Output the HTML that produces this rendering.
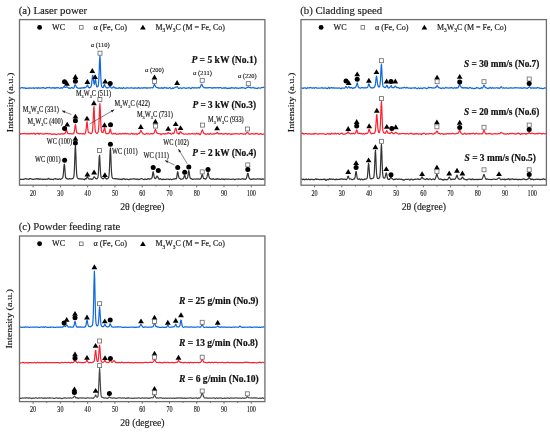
<!DOCTYPE html>
<html><head><meta charset="utf-8"><style>
html,body{margin:0;padding:0;background:#fff;}
body{width:550px;height:432px;overflow:hidden;}
svg{display:block;}
text{font-family:"Liberation Serif", serif;}
text.n{stroke:#1a1a1a;stroke-width:0.15px;}
text.b{stroke:#111;stroke-width:0.2px;}
</style></head><body>
<svg width="550" height="432" viewBox="0 0 550 432">
<defs><filter id="gs" x="0" y="0" width="550" height="432" filterUnits="userSpaceOnUse"><feColorMatrix type="saturate" values="0"/></filter></defs>
<rect width="550" height="432" fill="#fff"/>
<circle cx="39.6" cy="27.400000000000002" r="2.45" fill="#000"/>
<rect x="79.50" y="25.60" width="3.6" height="3.6" fill="#fff" stroke="#6a6a6a" stroke-width="0.8"/>
<polygon points="140.05,29.60 145.75,29.60 142.90,24.80" fill="#000"/>
<polyline points="19.80,88.60 20.15,88.42 20.50,88.11 20.85,87.73 21.20,87.72 21.55,87.69 21.90,87.63 22.25,87.66 22.60,87.83 22.95,88.13 23.30,87.96 23.65,87.94 24.00,87.85 24.35,87.76 24.70,87.84 25.05,87.90 25.40,88.48 25.75,88.43 26.10,88.36 26.45,88.19 26.80,88.19 27.15,88.35 27.50,88.11 27.85,88.11 28.20,88.13 28.55,88.29 28.90,88.27 29.25,87.96 29.60,87.92 29.95,87.91 30.30,88.18 30.65,88.15 31.00,88.30 31.35,88.18 31.70,88.18 32.05,88.12 32.40,87.96 32.75,87.87 33.10,87.70 33.45,88.16 33.80,88.20 34.15,88.38 34.50,88.17 34.85,88.14 35.20,87.81 35.55,87.87 35.90,87.85 36.25,88.19 36.60,87.85 36.95,87.84 37.30,87.92 37.65,88.33 38.00,88.20 38.35,87.82 38.70,87.59 39.05,87.90 39.40,88.12 39.75,88.17 40.10,87.92 40.45,87.98 40.80,88.10 41.15,88.19 41.50,87.88 41.85,87.60 42.20,87.78 42.55,87.74 42.90,87.84 43.25,87.57 43.60,87.81 43.95,87.79 44.30,87.94 44.65,88.19 45.00,88.28 45.35,88.48 45.70,88.24 46.05,88.10 46.40,87.96 46.75,87.55 47.10,87.62 47.45,87.59 47.80,87.83 48.15,87.90 48.50,87.79 48.85,87.61 49.20,87.51 49.55,87.44 49.90,87.74 50.25,87.74 50.60,88.08 50.95,88.17 51.30,88.19 51.65,88.06 52.00,87.77 52.35,87.96 52.70,87.74 53.05,88.08 53.40,87.73 53.75,87.74 54.10,87.61 54.45,88.07 54.80,88.32 55.15,88.29 55.50,87.96 55.85,87.68 56.20,87.77 56.55,87.72 56.90,88.00 57.25,87.80 57.60,87.84 57.95,87.60 58.30,87.70 58.65,87.85 59.00,88.00 59.35,88.19 59.70,88.26 60.05,88.41 60.40,88.11 60.75,88.01 61.10,87.57 61.45,87.76 61.80,87.96 62.15,88.18 62.50,88.10 62.85,87.76 63.20,87.60 63.55,87.28 63.90,86.66 64.25,86.50 64.60,86.80 64.95,87.30 65.30,87.49 65.65,87.43 66.00,87.28 66.35,86.87 66.70,86.78 67.05,86.95 67.40,87.21 67.75,87.38 68.10,87.74 68.45,88.12 68.80,88.24 69.15,88.01 69.50,87.92 69.85,88.15 70.20,88.44 70.55,88.29 70.90,88.03 71.25,87.61 71.60,87.53 71.95,87.56 72.30,87.77 72.65,88.07 73.00,88.21 73.35,88.29 73.70,88.22 74.05,87.63 74.40,86.64 74.75,85.43 75.10,84.89 75.45,85.02 75.80,85.72 76.15,86.48 76.50,87.39 76.85,87.77 77.20,87.99 77.55,87.73 77.90,88.11 78.25,88.12 78.60,88.27 78.95,88.38 79.30,88.21 79.65,88.06 80.00,88.04 80.35,87.97 80.70,88.40 81.05,88.12 81.40,88.09 81.75,87.76 82.10,87.78 82.45,87.97 82.80,87.93 83.15,88.07 83.50,87.68 83.85,87.62 84.20,87.41 84.55,88.01 84.90,87.78 85.25,87.73 85.60,87.23 85.95,87.26 86.30,87.02 86.65,86.51 87.00,85.85 87.35,85.04 87.70,85.37 88.05,86.25 88.40,87.28 88.75,87.63 89.10,87.79 89.45,87.54 89.80,87.82 90.15,87.59 90.50,87.52 90.85,86.85 91.20,85.96 91.55,84.33 91.90,81.31 92.25,77.75 92.60,75.37 92.95,75.87 93.30,78.51 93.65,81.67 94.00,83.77 94.35,84.50 94.70,82.81 95.05,80.16 95.40,78.83 95.75,80.35 96.10,83.58 96.45,85.68 96.80,86.78 97.15,86.99 97.50,86.86 97.85,86.58 98.20,85.53 98.55,83.52 98.90,78.26 99.25,69.42 99.60,59.28 99.95,55.66 100.30,62.14 100.65,72.76 101.00,80.50 101.35,84.91 101.70,86.40 102.05,87.13 102.40,87.28 102.75,87.52 103.10,87.56 103.45,87.26 103.80,86.00 104.15,84.84 104.50,84.50 104.85,85.33 105.20,86.28 105.55,86.81 105.90,87.18 106.25,87.61 106.60,87.84 106.95,88.07 107.30,87.86 107.65,87.95 108.00,87.71 108.35,87.73 108.70,87.66 109.05,87.32 109.40,86.62 109.75,85.58 110.10,85.33 110.45,86.17 110.80,87.21 111.15,87.94 111.50,88.01 111.85,88.05 112.20,87.91 112.55,87.80 112.90,87.38 113.25,86.94 113.60,86.77 113.95,87.09 114.30,87.73 114.65,87.64 115.00,87.92 115.35,87.95 115.70,88.21 116.05,87.95 116.40,88.03 116.75,88.28 117.10,88.42 117.45,88.27 117.80,88.11 118.15,88.11 118.50,88.08 118.85,87.94 119.20,87.72 119.55,87.72 119.90,87.90 120.25,88.34 120.60,88.15 120.95,88.18 121.30,87.83 121.65,88.08 122.00,88.21 122.35,88.41 122.70,88.34 123.05,88.06 123.40,87.67 123.75,87.68 124.10,87.95 124.45,88.12 124.80,88.23 125.15,88.15 125.50,88.25 125.85,88.31 126.20,88.19 126.55,88.00 126.90,87.67 127.25,87.82 127.60,87.89 127.95,88.02 128.30,88.01 128.65,87.95 129.00,88.26 129.35,88.23 129.70,88.27 130.05,87.91 130.40,87.98 130.75,87.88 131.10,87.88 131.45,87.71 131.80,87.92 132.15,88.02 132.50,88.08 132.85,87.99 133.20,87.97 133.55,88.11 133.90,88.26 134.25,88.21 134.60,88.28 134.95,87.88 135.30,87.96 135.65,87.80 136.00,88.25 136.35,88.25 136.70,88.09 137.05,88.04 137.40,87.99 137.75,88.12 138.10,87.60 138.45,87.69 138.80,87.50 139.15,88.07 139.50,88.12 139.85,88.35 140.20,88.15 140.55,88.10 140.90,87.94 141.25,88.03 141.60,87.95 141.95,87.87 142.30,88.13 142.65,88.26 143.00,88.08 143.35,87.92 143.70,87.60 144.05,87.88 144.40,87.66 144.75,87.78 145.10,87.85 145.45,87.89 145.80,87.75 146.15,87.72 146.50,87.82 146.85,88.30 147.20,88.24 147.55,88.00 147.90,87.68 148.25,87.84 148.60,87.88 148.95,87.83 149.30,87.81 149.65,87.94 150.00,88.07 150.35,87.89 150.70,87.76 151.05,87.67 151.40,87.72 151.75,87.78 152.10,87.85 152.45,87.88 152.80,87.84 153.15,87.48 153.50,86.60 153.85,85.44 154.20,84.62 154.55,84.46 154.90,85.16 155.25,85.79 155.60,86.61 155.95,87.07 156.30,87.42 156.65,87.50 157.00,87.43 157.35,87.60 157.70,87.89 158.05,88.02 158.40,88.03 158.75,87.70 159.10,87.91 159.45,88.18 159.80,88.16 160.15,88.03 160.50,87.97 160.85,88.21 161.20,88.26 161.55,87.75 161.90,87.67 162.25,87.79 162.60,88.31 162.95,88.43 163.30,88.21 163.65,87.89 164.00,87.52 164.35,87.45 164.70,87.72 165.05,87.98 165.40,87.94 165.75,87.97 166.10,87.74 166.45,88.13 166.80,87.88 167.15,88.18 167.50,88.09 167.85,88.18 168.20,88.32 168.55,88.22 168.90,88.13 169.25,87.84 169.60,87.62 169.95,87.57 170.30,87.81 170.65,88.15 171.00,88.47 171.35,88.73 171.70,88.71 172.05,88.58 172.40,87.97 172.75,87.82 173.10,88.07 173.45,88.35 173.80,88.36 174.15,88.07 174.50,87.70 174.85,87.58 175.20,87.31 175.55,87.19 175.90,87.23 176.25,87.18 176.60,86.96 176.95,86.57 177.30,86.47 177.65,87.06 178.00,87.57 178.35,88.20 178.70,88.48 179.05,88.48 179.40,88.24 179.75,87.89 180.10,87.74 180.45,87.85 180.80,88.07 181.15,88.16 181.50,88.32 181.85,88.33 182.20,88.34 182.55,88.06 182.90,87.97 183.25,87.83 183.60,87.71 183.95,87.75 184.30,87.81 184.65,87.91 185.00,88.05 185.35,88.10 185.70,88.34 186.05,88.16 186.40,88.41 186.75,88.29 187.10,88.02 187.45,87.98 187.80,87.88 188.15,87.85 188.50,87.68 188.85,87.74 189.20,87.84 189.55,87.73 189.90,87.79 190.25,88.19 190.60,88.45 190.95,88.56 191.30,88.51 191.65,87.97 192.00,87.67 192.35,87.53 192.70,87.50 193.05,87.73 193.40,87.83 193.75,88.12 194.10,87.94 194.45,87.67 194.80,87.78 195.15,87.83 195.50,87.96 195.85,87.81 196.20,87.87 196.55,87.82 196.90,88.11 197.25,88.09 197.60,87.91 197.95,87.55 198.30,87.50 198.65,87.63 199.00,87.89 199.35,87.96 199.70,87.94 200.05,87.39 200.40,86.62 200.75,85.90 201.10,84.93 201.45,84.34 201.80,84.04 202.15,84.96 202.50,85.74 202.85,86.68 203.20,86.76 203.55,87.18 203.90,87.42 204.25,87.79 204.60,87.72 204.95,87.65 205.30,87.81 205.65,87.82 206.00,87.94 206.35,87.69 206.70,87.99 207.05,87.68 207.40,87.80 207.75,87.84 208.10,87.90 208.45,87.78 208.80,87.60 209.15,87.61 209.50,87.69 209.85,87.57 210.20,87.60 210.55,87.62 210.90,87.58 211.25,87.93 211.60,87.98 211.95,88.28 212.30,87.82 212.65,88.01 213.00,87.67 213.35,87.82 213.70,87.83 214.05,87.94 214.40,87.71 214.75,87.54 215.10,87.59 215.45,87.97 215.80,87.91 216.15,87.89 216.50,87.81 216.85,87.71 217.20,87.74 217.55,87.61 217.90,87.92 218.25,87.92 218.60,88.02 218.95,87.59 219.30,87.59 219.65,87.56 220.00,87.78 220.35,87.72 220.70,87.59 221.05,87.76 221.40,87.93 221.75,88.21 222.10,88.11 222.45,88.26 222.80,88.30 223.15,88.23 223.50,87.96 223.85,87.59 224.20,87.71 224.55,87.84 224.90,88.28 225.25,88.23 225.60,87.86 225.95,87.64 226.30,87.91 226.65,88.20 227.00,88.41 227.35,88.33 227.70,88.55 228.05,88.45 228.40,88.22 228.75,88.05 229.10,88.35 229.45,88.37 229.80,88.02 230.15,87.96 230.50,88.10 230.85,88.28 231.20,87.87 231.55,87.58 231.90,87.78 232.25,87.89 232.60,88.03 232.95,87.86 233.30,87.77 233.65,88.03 234.00,88.07 234.35,88.34 234.70,88.05 235.05,87.99 235.40,87.71 235.75,87.75 236.10,87.83 236.45,88.06 236.80,88.32 237.15,88.17 237.50,88.21 237.85,88.04 238.20,88.44 238.55,88.22 238.90,88.08 239.25,87.96 239.60,88.08 239.95,88.14 240.30,88.02 240.65,87.95 241.00,88.06 241.35,87.80 241.70,87.60 242.05,87.56 242.40,87.86 242.75,87.96 243.10,87.69 243.45,87.85 243.80,87.88 244.15,87.98 244.50,88.02 244.85,88.23 245.20,88.54 245.55,88.42 245.90,88.32 246.25,88.00 246.60,87.81 246.95,87.60 247.30,87.53 247.65,87.21 248.00,86.81 248.35,86.82 248.70,87.09 249.05,87.52 249.40,87.65 249.75,87.50 250.10,87.37 250.45,87.56 250.80,87.84 251.15,88.11 251.50,87.79 251.85,87.73 252.20,87.78 252.55,87.77 252.90,87.67 253.25,87.29 253.60,87.76 253.95,87.93 254.30,88.09 254.65,87.94 255.00,87.92 255.35,88.14 255.70,88.29 256.05,88.44 256.40,88.36 256.75,88.30 257.10,88.28 257.45,88.41 257.80,88.02 258.15,87.95 258.50,87.79 258.85,88.09 259.20,88.00 259.55,87.97 259.90,88.02 260.25,88.09 260.60,88.12 260.95,87.89 261.30,87.67 261.65,87.54 262.00,87.43 262.35,87.54 262.70,87.53 263.05,87.52 263.40,87.31 263.75,87.37 264.10,87.55 264.45,87.75" fill="none" stroke="#1068dc" stroke-width="1.2" stroke-linejoin="round"/>
<polyline points="19.80,134.50 20.15,134.21 20.50,133.88 20.85,134.10 21.20,133.83 21.55,133.75 21.90,133.51 22.25,133.56 22.60,133.50 22.95,133.53 23.30,133.65 23.65,133.64 24.00,133.78 24.35,133.74 24.70,133.40 25.05,133.51 25.40,133.54 25.75,133.90 26.10,133.77 26.45,133.86 26.80,133.98 27.15,133.81 27.50,133.80 27.85,133.57 28.20,133.91 28.55,133.69 28.90,133.89 29.25,133.68 29.60,133.90 29.95,133.89 30.30,133.96 30.65,133.39 31.00,133.39 31.35,133.27 31.70,133.73 32.05,133.98 32.40,133.85 32.75,133.91 33.10,133.37 33.45,133.56 33.80,133.33 34.15,133.40 34.50,133.71 34.85,134.06 35.20,134.30 35.55,133.97 35.90,133.64 36.25,133.48 36.60,133.52 36.95,133.42 37.30,133.62 37.65,133.29 38.00,133.63 38.35,133.42 38.70,133.95 39.05,134.09 39.40,134.18 39.75,133.62 40.10,133.35 40.45,133.42 40.80,133.55 41.15,133.72 41.50,133.88 41.85,134.02 42.20,133.91 42.55,133.88 42.90,133.84 43.25,134.04 43.60,133.87 43.95,134.16 44.30,133.99 44.65,133.88 45.00,133.64 45.35,133.59 45.70,133.61 46.05,133.57 46.40,133.78 46.75,133.60 47.10,133.61 47.45,133.47 47.80,133.78 48.15,133.91 48.50,133.73 48.85,133.86 49.20,133.70 49.55,133.92 49.90,133.78 50.25,133.77 50.60,133.67 50.95,133.77 51.30,134.14 51.65,134.38 52.00,134.45 52.35,134.21 52.70,133.98 53.05,133.94 53.40,134.17 53.75,134.05 54.10,134.08 54.45,133.92 54.80,134.16 55.15,134.16 55.50,134.21 55.85,134.51 56.20,134.59 56.55,134.63 56.90,134.34 57.25,134.27 57.60,134.05 57.95,134.04 58.30,133.84 58.65,133.92 59.00,134.10 59.35,134.14 59.70,134.08 60.05,133.95 60.40,133.98 60.75,134.08 61.10,134.02 61.45,133.84 61.80,133.53 62.15,133.60 62.50,133.87 62.85,134.18 63.20,134.10 63.55,134.02 63.90,133.59 64.25,133.73 64.60,133.49 64.95,133.68 65.30,132.78 65.65,131.84 66.00,130.42 66.35,129.72 66.70,130.20 67.05,131.56 67.40,132.83 67.75,133.63 68.10,133.71 68.45,133.58 68.80,133.49 69.15,133.48 69.50,133.61 69.85,133.80 70.20,133.86 70.55,133.74 70.90,133.53 71.25,133.74 71.60,133.87 71.95,133.98 72.30,133.80 72.65,133.83 73.00,133.76 73.35,133.80 73.70,133.60 74.05,132.51 74.40,130.81 74.75,128.50 75.10,125.76 75.45,124.66 75.80,126.29 76.15,129.53 76.50,132.04 76.85,132.89 77.20,133.19 77.55,133.14 77.90,133.29 78.25,133.37 78.60,133.51 78.95,133.69 79.30,133.86 79.65,133.73 80.00,133.73 80.35,133.72 80.70,133.67 81.05,133.71 81.40,133.78 81.75,133.89 82.10,133.91 82.45,133.68 82.80,133.63 83.15,133.43 83.50,133.77 83.85,133.83 84.20,134.18 84.55,134.15 84.90,133.90 85.25,133.15 85.60,132.28 85.95,130.58 86.30,127.58 86.65,123.51 87.00,121.67 87.35,123.67 87.70,127.71 88.05,130.79 88.40,132.32 88.75,132.60 89.10,132.75 89.45,132.87 89.80,133.15 90.15,133.33 90.50,133.38 90.85,133.63 91.20,133.41 91.55,133.37 91.90,132.90 92.25,132.21 92.60,129.80 92.95,125.06 93.30,116.96 93.65,108.69 94.00,106.58 94.35,113.08 94.70,122.14 95.05,128.40 95.40,131.49 95.75,132.22 96.10,132.77 96.45,133.09 96.80,133.50 97.15,133.29 97.50,133.14 97.85,132.63 98.20,131.95 98.55,129.74 98.90,124.91 99.25,116.43 99.60,106.94 99.95,103.70 100.30,109.94 100.65,119.43 101.00,126.35 101.35,130.07 101.70,131.82 102.05,132.52 102.40,132.52 102.75,132.55 103.10,132.28 103.45,131.62 103.80,130.27 104.15,128.62 104.50,127.67 104.85,128.37 105.20,130.25 105.55,132.21 105.90,133.17 106.25,133.82 106.60,133.58 106.95,133.68 107.30,133.55 107.65,133.57 108.00,133.60 108.35,133.25 108.70,133.34 109.05,133.12 109.40,132.37 109.75,130.94 110.10,129.43 110.45,129.10 110.80,130.68 111.15,132.24 111.50,133.64 111.85,133.74 112.20,133.85 112.55,134.15 112.90,133.85 113.25,133.80 113.60,133.40 113.95,133.66 114.30,133.82 114.65,133.78 115.00,133.62 115.35,133.35 115.70,133.54 116.05,133.88 116.40,134.18 116.75,134.35 117.10,134.13 117.45,134.16 117.80,134.03 118.15,134.08 118.50,133.82 118.85,133.85 119.20,133.78 119.55,133.85 119.90,133.57 120.25,133.94 120.60,133.97 120.95,134.05 121.30,133.75 121.65,133.72 122.00,133.81 122.35,133.59 122.70,133.45 123.05,133.52 123.40,133.94 123.75,133.96 124.10,133.90 124.45,133.65 124.80,133.46 125.15,133.40 125.50,133.32 125.85,133.80 126.20,133.81 126.55,133.97 126.90,133.62 127.25,133.67 127.60,133.39 127.95,133.64 128.30,133.82 128.65,133.94 129.00,134.03 129.35,134.03 129.70,134.19 130.05,134.23 130.40,134.03 130.75,133.98 131.10,133.51 131.45,133.34 131.80,133.19 132.15,133.85 132.50,134.05 132.85,134.24 133.20,133.68 133.55,133.90 133.90,133.75 134.25,134.18 134.60,134.08 134.95,134.26 135.30,133.94 135.65,133.76 136.00,133.55 136.35,133.74 136.70,134.00 137.05,134.32 137.40,134.37 137.75,134.00 138.10,133.89 138.45,133.54 138.80,133.50 139.15,133.38 139.50,133.52 139.85,132.94 140.20,131.96 140.55,130.52 140.90,130.37 141.25,130.80 141.60,131.76 141.95,132.28 142.30,132.94 142.65,133.35 143.00,133.79 143.35,133.78 143.70,133.87 144.05,134.00 144.40,134.17 144.75,134.29 145.10,134.30 145.45,134.22 145.80,133.96 146.15,133.62 146.50,133.35 146.85,133.56 147.20,133.62 147.55,133.93 147.90,134.00 148.25,133.94 148.60,133.89 148.95,133.96 149.30,134.09 149.65,134.20 150.00,133.98 150.35,133.82 150.70,133.64 151.05,133.38 151.40,133.62 151.75,133.57 152.10,134.04 152.45,133.73 152.80,133.80 153.15,133.59 153.50,133.62 153.85,133.38 154.20,132.65 154.55,131.63 154.90,130.28 155.25,129.52 155.60,129.63 155.95,130.75 156.30,131.85 156.65,132.72 157.00,133.09 157.35,133.11 157.70,133.26 158.05,133.49 158.40,133.60 158.75,133.63 159.10,133.69 159.45,133.79 159.80,133.87 160.15,133.71 160.50,134.19 160.85,134.37 161.20,134.62 161.55,134.15 161.90,134.03 162.25,133.83 162.60,133.99 162.95,133.80 163.30,133.85 163.65,133.68 164.00,133.81 164.35,134.05 164.70,133.96 165.05,133.71 165.40,133.51 165.75,133.83 166.10,133.96 166.45,133.94 166.80,133.80 167.15,133.73 167.50,133.45 167.85,132.81 168.20,132.58 168.55,132.64 168.90,133.11 169.25,133.48 169.60,133.46 169.95,133.42 170.30,133.54 170.65,133.58 171.00,134.06 171.35,134.05 171.70,134.14 172.05,133.74 172.40,133.22 172.75,133.27 173.10,133.12 173.45,133.64 173.80,133.27 174.15,133.20 174.50,131.81 174.85,130.69 175.20,129.13 175.55,128.12 175.90,128.17 176.25,129.38 176.60,131.22 176.95,132.72 177.30,133.41 177.65,133.31 178.00,133.33 178.35,133.54 178.70,134.19 179.05,134.07 179.40,133.64 179.75,132.61 180.10,131.91 180.45,131.65 180.80,131.89 181.15,132.58 181.50,132.84 181.85,133.29 182.20,133.42 182.55,133.72 182.90,133.73 183.25,133.72 183.60,133.87 183.95,134.08 184.30,134.24 184.65,134.10 185.00,134.00 185.35,133.96 185.70,133.98 186.05,134.01 186.40,134.11 186.75,134.03 187.10,134.17 187.45,134.02 187.80,134.13 188.15,133.89 188.50,133.80 188.85,133.51 189.20,133.80 189.55,133.96 189.90,134.17 190.25,134.08 190.60,133.88 190.95,133.86 191.30,133.69 191.65,133.53 192.00,133.47 192.35,133.42 192.70,133.92 193.05,133.85 193.40,133.89 193.75,133.82 194.10,133.93 194.45,133.82 194.80,133.70 195.15,133.59 195.50,134.05 195.85,133.85 196.20,133.85 196.55,133.17 196.90,133.22 197.25,133.62 197.60,134.02 197.95,133.97 198.30,133.72 198.65,133.68 199.00,133.81 199.35,134.13 199.70,134.46 200.05,134.67 200.40,134.44 200.75,133.77 201.10,132.75 201.45,131.81 201.80,130.95 202.15,130.32 202.50,129.98 202.85,130.73 203.20,131.88 203.55,132.88 203.90,133.45 204.25,133.65 204.60,133.69 204.95,133.89 205.30,133.91 205.65,134.30 206.00,134.19 206.35,134.25 206.70,134.13 207.05,133.96 207.40,133.92 207.75,133.70 208.10,133.78 208.45,133.92 208.80,134.29 209.15,134.38 209.50,134.11 209.85,133.66 210.20,133.31 210.55,133.58 210.90,133.85 211.25,134.18 211.60,134.12 211.95,134.06 212.30,134.08 212.65,134.12 213.00,134.07 213.35,133.85 213.70,133.90 214.05,134.06 214.40,133.96 214.75,133.77 215.10,133.37 215.45,133.66 215.80,133.54 216.15,133.67 216.50,133.32 216.85,132.84 217.20,132.44 217.55,132.53 217.90,133.17 218.25,133.44 218.60,133.77 218.95,133.53 219.30,133.86 219.65,133.88 220.00,133.92 220.35,133.65 220.70,133.60 221.05,133.82 221.40,133.51 221.75,133.52 222.10,133.71 222.45,134.08 222.80,133.84 223.15,133.80 223.50,133.90 223.85,134.14 224.20,134.05 224.55,133.83 224.90,133.69 225.25,133.43 225.60,133.44 225.95,133.49 226.30,133.51 226.65,133.93 227.00,134.05 227.35,134.34 227.70,133.84 228.05,133.73 228.40,133.58 228.75,133.86 229.10,133.96 229.45,133.86 229.80,133.70 230.15,133.78 230.50,134.24 230.85,134.70 231.20,134.51 231.55,134.05 231.90,133.76 232.25,133.87 232.60,134.27 232.95,134.20 233.30,134.01 233.65,133.90 234.00,133.83 234.35,133.81 234.70,133.73 235.05,133.81 235.40,133.78 235.75,133.66 236.10,133.63 236.45,133.75 236.80,133.68 237.15,133.83 237.50,133.81 237.85,133.83 238.20,133.91 238.55,133.82 238.90,134.03 239.25,133.96 239.60,134.05 239.95,133.97 240.30,133.65 240.65,133.73 241.00,133.54 241.35,133.64 241.70,133.64 242.05,133.68 242.40,133.83 242.75,133.86 243.10,134.13 243.45,134.17 243.80,134.26 244.15,133.98 244.50,133.86 244.85,133.79 245.20,134.08 245.55,134.18 245.90,133.95 246.25,133.48 246.60,132.97 246.95,132.77 247.30,132.36 247.65,132.43 248.00,132.75 248.35,133.44 248.70,133.68 249.05,134.04 249.40,134.05 249.75,134.22 250.10,134.06 250.45,133.99 250.80,134.06 251.15,133.92 251.50,133.83 251.85,133.58 252.20,133.66 252.55,133.82 252.90,133.94 253.25,133.81 253.60,133.76 253.95,133.90 254.30,134.14 254.65,134.14 255.00,134.06 255.35,133.61 255.70,133.48 256.05,133.33 256.40,133.47 256.75,133.75 257.10,133.55 257.45,133.76 257.80,133.76 258.15,134.41 258.50,134.26 258.85,134.22 259.20,134.11 259.55,134.33 259.90,134.12 260.25,133.84 260.60,133.53 260.95,133.68 261.30,133.84 261.65,134.22 262.00,134.29 262.35,134.32 262.70,134.28 263.05,134.07 263.40,134.03 263.75,134.02 264.10,134.12 264.45,133.99" fill="none" stroke="#ff2030" stroke-width="1.2" stroke-linejoin="round"/>
<polyline points="19.80,179.41 20.15,179.26 20.50,179.39 20.85,179.17 21.20,179.27 21.55,179.40 21.90,179.46 22.25,179.50 22.60,179.32 22.95,179.47 23.30,179.47 23.65,179.45 24.00,179.13 24.35,179.08 24.70,178.93 25.05,178.87 25.40,178.70 25.75,178.52 26.10,178.69 26.45,178.89 26.80,179.08 27.15,179.13 27.50,178.96 27.85,178.99 28.20,179.02 28.55,179.33 28.90,179.22 29.25,179.12 29.60,178.70 29.95,178.76 30.30,178.49 30.65,178.58 31.00,178.82 31.35,178.82 31.70,179.15 32.05,179.03 32.40,179.31 32.75,179.26 33.10,179.29 33.45,179.50 33.80,179.39 34.15,179.23 34.50,178.98 34.85,178.86 35.20,178.95 35.55,178.92 35.90,179.23 36.25,178.95 36.60,178.91 36.95,178.60 37.30,178.57 37.65,179.02 38.00,178.80 38.35,179.07 38.70,178.71 39.05,179.32 39.40,179.06 39.75,179.30 40.10,178.94 40.45,179.22 40.80,178.95 41.15,179.16 41.50,179.01 41.85,179.10 42.20,179.06 42.55,179.50 42.90,179.16 43.25,179.33 43.60,179.20 43.95,179.48 44.30,179.30 44.65,179.09 45.00,179.41 45.35,179.39 45.70,179.43 46.05,179.15 46.40,179.09 46.75,179.09 47.10,178.99 47.45,179.33 47.80,179.07 48.15,178.66 48.50,178.33 48.85,178.60 49.20,179.19 49.55,179.18 49.90,179.18 50.25,179.17 50.60,179.35 50.95,179.30 51.30,179.20 51.65,179.34 52.00,179.49 52.35,179.39 52.70,179.45 53.05,179.48 53.40,179.54 53.75,179.02 54.10,178.94 54.45,178.90 54.80,178.92 55.15,178.68 55.50,178.72 55.85,179.04 56.20,179.17 56.55,179.03 56.90,178.96 57.25,179.03 57.60,179.36 57.95,179.44 58.30,179.39 58.65,179.24 59.00,179.04 59.35,178.88 59.70,178.99 60.05,179.18 60.40,179.35 60.75,179.19 61.10,178.90 61.45,178.70 61.80,178.54 62.15,178.39 62.50,178.10 62.85,177.39 63.20,175.30 63.55,171.80 63.90,167.06 64.25,164.09 64.60,165.49 64.95,170.18 65.30,174.67 65.65,177.28 66.00,178.21 66.35,178.33 66.70,178.69 67.05,178.70 67.40,178.99 67.75,178.88 68.10,179.18 68.45,179.05 68.80,179.07 69.15,178.71 69.50,178.60 69.85,178.58 70.20,178.89 70.55,179.01 70.90,178.91 71.25,178.84 71.60,178.90 71.95,178.91 72.30,178.69 72.65,178.35 73.00,178.30 73.35,178.10 73.70,177.17 74.05,174.82 74.40,169.28 74.75,159.89 75.10,149.37 75.45,145.49 75.80,152.36 76.15,163.08 76.50,171.37 76.85,175.71 77.20,177.41 77.55,178.08 77.90,178.20 78.25,178.44 78.60,178.57 78.95,179.00 79.30,178.82 79.65,178.80 80.00,178.64 80.35,178.96 80.70,179.03 81.05,179.21 81.40,179.03 81.75,178.86 82.10,178.97 82.45,178.96 82.80,179.13 83.15,179.08 83.50,179.18 83.85,179.46 84.20,179.40 84.55,179.76 84.90,179.09 85.25,178.73 85.60,178.52 85.95,178.81 86.30,178.85 86.65,178.21 87.00,177.18 87.35,176.73 87.70,176.83 88.05,177.70 88.40,178.48 88.75,178.96 89.10,179.18 89.45,178.99 89.80,178.93 90.15,178.90 90.50,178.96 90.85,179.21 91.20,179.06 91.55,179.37 91.90,179.01 92.25,179.25 92.60,178.74 92.95,178.84 93.30,178.13 93.65,177.50 94.00,176.76 94.35,176.81 94.70,177.33 95.05,177.61 95.40,178.30 95.75,178.50 96.10,178.73 96.45,178.50 96.80,178.82 97.15,178.50 97.50,178.27 97.85,177.21 98.20,175.66 98.55,171.06 98.90,163.94 99.25,156.58 99.60,155.29 99.95,161.35 100.30,168.88 100.65,174.23 101.00,176.74 101.35,177.74 101.70,177.91 102.05,178.22 102.40,178.57 102.75,178.82 103.10,178.91 103.45,178.66 103.80,178.53 104.15,177.87 104.50,177.38 104.85,176.97 105.20,177.23 105.55,177.89 105.90,178.39 106.25,178.94 106.60,178.95 106.95,179.05 107.30,178.79 107.65,178.68 108.00,178.47 108.35,177.94 108.70,177.39 109.05,175.03 109.40,170.10 109.75,161.26 110.10,151.64 110.45,148.08 110.80,154.52 111.15,164.47 111.50,171.91 111.85,175.87 112.20,177.55 112.55,178.15 112.90,178.49 113.25,178.63 113.60,178.75 113.95,178.75 114.30,178.58 114.65,178.64 115.00,178.68 115.35,178.67 115.70,178.84 116.05,178.59 116.40,178.96 116.75,178.86 117.10,179.10 117.45,178.77 117.80,178.84 118.15,178.96 118.50,179.27 118.85,179.05 119.20,179.05 119.55,179.12 119.90,179.34 120.25,179.42 120.60,179.13 120.95,179.18 121.30,179.14 121.65,179.50 122.00,179.70 122.35,179.38 122.70,178.91 123.05,178.78 123.40,178.73 123.75,178.98 124.10,178.73 124.45,179.11 124.80,179.25 125.15,179.53 125.50,179.37 125.85,179.26 126.20,179.13 126.55,179.19 126.90,179.22 127.25,179.33 127.60,179.21 127.95,179.46 128.30,179.44 128.65,179.71 129.00,179.63 129.35,179.45 129.70,178.99 130.05,178.98 130.40,179.05 130.75,179.32 131.10,179.09 131.45,179.17 131.80,178.98 132.15,179.00 132.50,178.91 132.85,179.09 133.20,178.76 133.55,178.95 133.90,179.00 134.25,179.09 134.60,178.86 134.95,178.82 135.30,179.17 135.65,179.28 136.00,179.48 136.35,179.39 136.70,179.24 137.05,178.93 137.40,179.04 137.75,179.10 138.10,179.33 138.45,179.37 138.80,179.55 139.15,179.57 139.50,179.39 139.85,179.30 140.20,179.06 140.55,179.00 140.90,178.76 141.25,178.77 141.60,178.70 141.95,178.72 142.30,178.82 142.65,179.05 143.00,179.21 143.35,179.40 143.70,179.47 144.05,179.67 144.40,179.38 144.75,179.01 145.10,178.94 145.45,179.07 145.80,179.40 146.15,179.38 146.50,179.52 146.85,179.36 147.20,179.40 147.55,179.07 147.90,178.76 148.25,178.59 148.60,178.94 148.95,179.02 149.30,179.23 149.65,178.89 150.00,179.06 150.35,178.88 150.70,178.97 151.05,178.82 151.40,178.68 151.75,178.30 152.10,177.55 152.45,175.46 152.80,173.06 153.15,171.60 153.50,173.03 153.85,175.09 154.20,177.03 154.55,177.65 154.90,178.42 155.25,178.63 155.60,178.68 155.95,178.10 156.30,177.39 156.65,176.72 157.00,176.15 157.35,176.32 157.70,176.76 158.05,177.66 158.40,178.25 158.75,178.89 159.10,179.32 159.45,179.17 159.80,178.83 160.15,178.67 160.50,178.77 160.85,179.16 161.20,179.20 161.55,179.39 161.90,179.57 162.25,179.66 162.60,179.33 162.95,179.10 163.30,179.20 163.65,179.39 164.00,179.55 164.35,179.24 164.70,179.24 165.05,179.33 165.40,179.50 165.75,179.53 166.10,179.43 166.45,179.07 166.80,179.00 167.15,179.00 167.50,179.20 167.85,179.15 168.20,179.08 168.55,179.13 168.90,179.48 169.25,179.55 169.60,179.46 169.95,179.19 170.30,179.03 170.65,179.03 171.00,179.32 171.35,179.58 171.70,179.81 172.05,179.64 172.40,179.37 172.75,179.29 173.10,179.17 173.45,179.24 173.80,178.84 174.15,178.81 174.50,178.98 174.85,179.05 175.20,178.85 175.55,178.54 175.90,178.81 176.25,178.88 176.60,177.92 176.95,175.81 177.30,173.23 177.65,171.67 178.00,172.62 178.35,174.88 178.70,176.81 179.05,177.87 179.40,178.37 179.75,178.64 180.10,178.63 180.45,178.84 180.80,179.27 181.15,179.41 181.50,179.22 181.85,179.00 182.20,179.00 182.55,178.92 182.90,178.98 183.25,178.67 183.60,178.21 183.95,176.99 184.30,175.82 184.65,175.14 185.00,175.76 185.35,177.25 185.70,178.38 186.05,178.86 186.40,178.65 186.75,178.55 187.10,178.23 187.45,177.84 187.80,176.65 188.15,174.45 188.50,171.75 188.85,170.47 189.20,172.17 189.55,174.98 189.90,177.07 190.25,178.09 190.60,178.65 190.95,178.70 191.30,178.79 191.65,178.52 192.00,179.04 192.35,179.22 192.70,179.49 193.05,179.33 193.40,179.29 193.75,179.26 194.10,178.97 194.45,178.97 194.80,179.02 195.15,179.05 195.50,179.14 195.85,179.15 196.20,179.13 196.55,178.94 196.90,178.79 197.25,178.94 197.60,179.07 197.95,178.92 198.30,178.96 198.65,178.92 199.00,179.21 199.35,179.24 199.70,179.14 200.05,179.10 200.40,178.71 200.75,178.67 201.10,177.97 201.45,177.03 201.80,175.44 202.15,174.34 202.50,174.74 202.85,176.09 203.20,177.44 203.55,178.53 203.90,178.72 204.25,178.74 204.60,178.52 204.95,178.91 205.30,179.10 205.65,179.12 206.00,178.64 206.35,178.27 206.70,177.79 207.05,176.74 207.40,174.99 207.75,173.02 208.10,172.47 208.45,173.89 208.80,175.88 209.15,177.14 209.50,177.90 209.85,178.41 210.20,178.82 210.55,179.09 210.90,178.86 211.25,179.07 211.60,179.08 211.95,179.30 212.30,179.24 212.65,178.87 213.00,178.78 213.35,178.60 213.70,179.21 214.05,179.27 214.40,179.33 214.75,179.19 215.10,179.06 215.45,179.35 215.80,179.12 216.15,179.27 216.50,178.92 216.85,179.15 217.20,178.84 217.55,179.08 217.90,178.84 218.25,179.17 218.60,178.89 218.95,179.05 219.30,179.07 219.65,179.33 220.00,179.35 220.35,179.41 220.70,179.48 221.05,179.37 221.40,179.10 221.75,178.76 222.10,178.92 222.45,179.04 222.80,179.39 223.15,179.30 223.50,179.20 223.85,179.18 224.20,179.46 224.55,179.59 224.90,179.31 225.25,178.89 225.60,179.06 225.95,179.11 226.30,179.17 226.65,179.14 227.00,179.23 227.35,179.31 227.70,179.13 228.05,179.03 228.40,179.04 228.75,179.14 229.10,179.33 229.45,179.23 229.80,179.26 230.15,179.24 230.50,179.33 230.85,179.36 231.20,179.44 231.55,179.46 231.90,179.38 232.25,179.09 232.60,179.10 232.95,179.08 233.30,179.18 233.65,179.00 234.00,179.10 234.35,179.53 234.70,179.72 235.05,179.65 235.40,179.33 235.75,179.18 236.10,179.18 236.45,179.01 236.80,179.00 237.15,179.02 237.50,179.16 237.85,179.24 238.20,179.08 238.55,179.08 238.90,178.94 239.25,179.17 239.60,179.08 239.95,179.24 240.30,179.24 240.65,179.37 241.00,179.18 241.35,179.02 241.70,178.99 242.05,179.01 242.40,178.68 242.75,178.61 243.10,178.76 243.45,179.18 243.80,179.19 244.15,179.20 244.50,179.15 244.85,179.32 245.20,179.33 245.55,179.30 245.90,178.85 246.25,178.54 246.60,177.62 246.95,176.49 247.30,174.44 247.65,173.36 248.00,173.34 248.35,174.85 248.70,176.56 249.05,177.87 249.40,178.66 249.75,178.75 250.10,179.13 250.45,179.34 250.80,179.56 251.15,179.19 251.50,179.29 251.85,179.29 252.20,179.37 252.55,179.17 252.90,178.85 253.25,178.99 253.60,178.85 253.95,179.22 254.30,179.06 254.65,179.14 255.00,179.07 255.35,179.17 255.70,179.10 256.05,179.03 256.40,179.09 256.75,179.22 257.10,179.04 257.45,178.91 257.80,178.80 258.15,178.92 258.50,178.96 258.85,179.10 259.20,179.16 259.55,178.90 259.90,178.96 260.25,178.96 260.60,179.15 260.95,179.12 261.30,179.44 261.65,179.31 262.00,179.05 262.35,178.87 262.70,178.95 263.05,179.38 263.40,179.12 263.75,179.17 264.10,179.10 264.45,179.37" fill="none" stroke="#333333" stroke-width="1.2" stroke-linejoin="round"/>
<rect x="19.5" y="19.6" width="245.39999999999998" height="165.6" fill="none" stroke="#6e6e6e" stroke-width="1.3"/>
<line x1="33.10" y1="185.2" x2="33.10" y2="187.39999999999998" stroke="#6e6e6e" stroke-width="1.0"/>
<line x1="46.74" y1="185.2" x2="46.74" y2="186.5" stroke="#6e6e6e" stroke-width="1.0"/>
<line x1="60.38" y1="185.2" x2="60.38" y2="187.39999999999998" stroke="#6e6e6e" stroke-width="1.0"/>
<line x1="74.01" y1="185.2" x2="74.01" y2="186.5" stroke="#6e6e6e" stroke-width="1.0"/>
<line x1="87.65" y1="185.2" x2="87.65" y2="187.39999999999998" stroke="#6e6e6e" stroke-width="1.0"/>
<line x1="101.29" y1="185.2" x2="101.29" y2="186.5" stroke="#6e6e6e" stroke-width="1.0"/>
<line x1="114.93" y1="185.2" x2="114.93" y2="187.39999999999998" stroke="#6e6e6e" stroke-width="1.0"/>
<line x1="128.56" y1="185.2" x2="128.56" y2="186.5" stroke="#6e6e6e" stroke-width="1.0"/>
<line x1="142.20" y1="185.2" x2="142.20" y2="187.39999999999998" stroke="#6e6e6e" stroke-width="1.0"/>
<line x1="155.84" y1="185.2" x2="155.84" y2="186.5" stroke="#6e6e6e" stroke-width="1.0"/>
<line x1="169.47" y1="185.2" x2="169.47" y2="187.39999999999998" stroke="#6e6e6e" stroke-width="1.0"/>
<line x1="183.11" y1="185.2" x2="183.11" y2="186.5" stroke="#6e6e6e" stroke-width="1.0"/>
<line x1="196.75" y1="185.2" x2="196.75" y2="187.39999999999998" stroke="#6e6e6e" stroke-width="1.0"/>
<line x1="210.39" y1="185.2" x2="210.39" y2="186.5" stroke="#6e6e6e" stroke-width="1.0"/>
<line x1="224.03" y1="185.2" x2="224.03" y2="187.39999999999998" stroke="#6e6e6e" stroke-width="1.0"/>
<line x1="237.66" y1="185.2" x2="237.66" y2="186.5" stroke="#6e6e6e" stroke-width="1.0"/>
<line x1="251.30" y1="185.2" x2="251.30" y2="187.39999999999998" stroke="#6e6e6e" stroke-width="1.0"/>
<line x1="62.0" y1="110.8" x2="71.5" y2="114.6" stroke="#333" stroke-width="0.6"/>
<polygon points="62.0,110.8 65.45,110.78 64.49,113.20" fill="#222"/>
<line x1="114.2" y1="109.7" x2="89.5" y2="124.1" stroke="#333" stroke-width="0.6"/>
<polygon points="114.2,109.7 112.09,112.43 110.78,110.19" fill="#222"/>
<line x1="165.0" y1="160.5" x2="174.5" y2="165.0" stroke="#333" stroke-width="0.6"/>
<polygon points="165.0,160.5 168.45,160.70 167.34,163.04" fill="#222"/>
<line x1="178.4" y1="149.1" x2="187.3" y2="163.7" stroke="#333" stroke-width="0.6"/>
<polygon points="178.4,149.1 181.18,151.16 178.96,152.51" fill="#222"/>
<circle cx="64.5" cy="81.8" r="2.5" fill="#000"/>
<polygon points="64.10,85.75 69.90,85.75 67.00,80.85" fill="#000"/>
<polygon points="72.50,78.95 78.30,78.95 75.40,74.05" fill="#000"/>
<circle cx="75.4" cy="81.2" r="2.5" fill="#000"/>
<polygon points="84.50,83.95 90.30,83.95 87.40,79.05" fill="#000"/>
<polygon points="89.40,72.95 95.20,72.95 92.30,68.05" fill="#000"/>
<polygon points="92.20,79.05 98.00,79.05 95.10,74.15" fill="#000"/>
<rect x="98.00" y="51.20" width="4.0" height="4.0" fill="#fff" stroke="#6a6a6a" stroke-width="0.8"/>
<polygon points="102.30,83.45 108.10,83.45 105.20,78.55" fill="#000"/>
<circle cx="110.2" cy="83.4" r="2.5" fill="#000"/>
<polygon points="151.60,79.45 157.40,79.45 154.50,74.55" fill="#000"/>
<rect x="152.50" y="79.50" width="4.0" height="4.0" fill="#fff" stroke="#6a6a6a" stroke-width="0.8"/>
<polygon points="174.20,84.95 180.00,84.95 177.10,80.05" fill="#000"/>
<rect x="200.20" y="78.30" width="4.0" height="4.0" fill="#fff" stroke="#6a6a6a" stroke-width="0.8"/>
<rect x="246.30" y="81.70" width="4.0" height="4.0" fill="#fff" stroke="#6a6a6a" stroke-width="0.8"/>
<circle cx="64.6" cy="128.4" r="2.5" fill="#000"/>
<polygon points="64.30,126.55 70.10,126.55 67.20,121.65" fill="#000"/>
<polygon points="72.50,118.55 78.30,118.55 75.40,113.65" fill="#000"/>
<circle cx="75.4" cy="120.8" r="2.5" fill="#000"/>
<polygon points="84.10,120.55 89.90,120.55 87.00,115.65" fill="#000"/>
<polygon points="91.00,105.15 96.80,105.15 93.90,100.25" fill="#000"/>
<rect x="97.90" y="97.40" width="4.0" height="4.0" fill="#fff" stroke="#6a6a6a" stroke-width="0.8"/>
<polygon points="101.60,127.15 107.40,127.15 104.50,122.25" fill="#000"/>
<circle cx="110.5" cy="124.7" r="2.5" fill="#000"/>
<polygon points="137.90,128.95 143.70,128.95 140.80,124.05" fill="#000"/>
<polygon points="152.50,123.65 158.30,123.65 155.40,118.75" fill="#000"/>
<rect x="153.40" y="124.10" width="4.0" height="4.0" fill="#fff" stroke="#6a6a6a" stroke-width="0.8"/>
<polygon points="165.30,130.85 171.10,130.85 168.20,125.95" fill="#000"/>
<polygon points="172.80,126.05 178.60,126.05 175.70,121.15" fill="#000"/>
<polygon points="177.60,130.05 183.40,130.05 180.50,125.15" fill="#000"/>
<rect x="200.40" y="123.10" width="4.0" height="4.0" fill="#fff" stroke="#6a6a6a" stroke-width="0.8"/>
<polygon points="214.20,130.35 220.00,130.35 217.10,125.45" fill="#000"/>
<rect x="245.50" y="127.00" width="4.0" height="4.0" fill="#fff" stroke="#6a6a6a" stroke-width="0.8"/>
<circle cx="64.6" cy="160.2" r="2.5" fill="#000"/>
<polygon points="72.50,140.75 78.30,140.75 75.40,135.85" fill="#000"/>
<circle cx="75.4" cy="143.0" r="2.5" fill="#000"/>
<polygon points="84.50,176.45 90.30,176.45 87.40,171.55" fill="#000"/>
<polygon points="91.20,174.45 97.00,174.45 94.10,169.55" fill="#000"/>
<polygon points="102.00,177.05 107.80,177.05 104.90,172.15" fill="#000"/>
<rect x="97.50" y="148.40" width="4.0" height="4.0" fill="#fff" stroke="#6a6a6a" stroke-width="0.8"/>
<circle cx="110.4" cy="144.3" r="2.5" fill="#000"/>
<circle cx="153.2" cy="167.5" r="2.5" fill="#000"/>
<circle cx="158.3" cy="170.5" r="2.5" fill="#000"/>
<circle cx="177.7" cy="167.5" r="2.5" fill="#000"/>
<circle cx="184.7" cy="172.3" r="2.5" fill="#000"/>
<circle cx="188.8" cy="166.9" r="2.5" fill="#000"/>
<rect x="200.20" y="169.90" width="4.0" height="4.0" fill="#fff" stroke="#6a6a6a" stroke-width="0.8"/>
<circle cx="208.0" cy="169.6" r="2.5" fill="#000"/>
<rect x="245.80" y="162.90" width="4.0" height="4.0" fill="#fff" stroke="#6a6a6a" stroke-width="0.8"/>
<circle cx="247.8" cy="169.6" r="2.5" fill="#000"/>
<circle cx="321.1" cy="27.400000000000002" r="2.45" fill="#000"/>
<rect x="361.00" y="25.60" width="3.6" height="3.6" fill="#fff" stroke="#6a6a6a" stroke-width="0.8"/>
<polygon points="421.55,29.60 427.25,29.60 424.40,24.80" fill="#000"/>
<polyline points="301.30,88.08 301.65,88.00 302.00,88.05 302.35,88.12 302.70,88.25 303.05,88.43 303.40,88.16 303.75,88.11 304.10,87.77 304.45,87.78 304.80,87.75 305.15,87.89 305.50,88.07 305.85,88.17 306.20,88.47 306.55,88.54 306.90,88.22 307.25,87.92 307.60,87.70 307.95,87.86 308.30,88.02 308.65,88.08 309.00,87.87 309.35,87.72 309.70,87.71 310.05,87.82 310.40,87.64 310.75,87.59 311.10,87.76 311.45,87.84 311.80,87.94 312.15,88.22 312.50,88.16 312.85,88.03 313.20,87.72 313.55,88.00 313.90,88.02 314.25,88.27 314.60,87.91 314.95,87.86 315.30,87.64 315.65,87.70 316.00,87.77 316.35,87.84 316.70,88.08 317.05,88.19 317.40,88.08 317.75,88.17 318.10,88.22 318.45,88.22 318.80,88.20 319.15,88.01 319.50,88.07 319.85,87.98 320.20,88.12 320.55,88.01 320.90,87.96 321.25,87.88 321.60,87.88 321.95,87.67 322.30,87.95 322.65,87.96 323.00,88.28 323.35,88.14 323.70,88.19 324.05,88.11 324.40,88.10 324.75,88.16 325.10,87.85 325.45,87.82 325.80,87.93 326.15,88.21 326.50,88.35 326.85,88.44 327.20,88.43 327.55,88.58 327.90,88.13 328.25,88.03 328.60,87.35 328.95,87.70 329.30,87.75 329.65,88.38 330.00,88.21 330.35,87.89 330.70,87.83 331.05,87.68 331.40,87.79 331.75,87.58 332.10,87.87 332.45,87.98 332.80,88.04 333.15,87.66 333.50,88.00 333.85,87.96 334.20,88.26 334.55,88.09 334.90,88.12 335.25,88.13 335.60,87.91 335.95,87.86 336.30,87.90 336.65,88.19 337.00,88.19 337.35,88.14 337.70,88.03 338.05,88.14 338.40,88.15 338.75,88.06 339.10,87.90 339.45,88.04 339.80,88.12 340.15,88.20 340.50,88.55 340.85,88.64 341.20,88.76 341.55,88.26 341.90,87.97 342.25,88.01 342.60,87.97 342.95,88.12 343.30,88.10 343.65,88.26 344.00,88.26 344.35,88.07 344.70,88.11 345.05,87.90 345.40,87.30 345.75,86.64 346.10,86.46 346.45,86.96 346.80,87.40 347.15,87.70 347.50,88.01 347.85,87.69 348.20,87.25 348.55,86.74 348.90,86.67 349.25,87.21 349.60,87.49 349.95,88.04 350.30,87.89 350.65,88.01 351.00,87.61 351.35,87.68 351.70,87.63 352.05,87.94 352.40,88.30 352.75,88.57 353.10,88.29 353.45,87.88 353.80,87.78 354.15,88.03 354.50,87.91 354.85,87.77 355.20,87.47 355.55,87.39 355.90,86.70 356.25,85.87 356.60,84.73 356.95,83.32 357.30,82.94 357.65,84.27 358.00,85.89 358.35,87.14 358.70,87.34 359.05,87.72 359.40,87.78 359.75,88.08 360.10,88.00 360.45,88.15 360.80,87.98 361.15,87.90 361.50,87.68 361.85,87.64 362.20,87.43 362.55,87.58 362.90,87.60 363.25,87.96 363.60,87.95 363.95,87.99 364.30,87.91 364.65,88.01 365.00,87.71 365.35,87.89 365.70,87.65 366.05,87.95 366.40,87.73 366.75,87.76 367.10,87.49 367.45,87.55 367.80,86.94 368.15,85.90 368.50,84.44 368.85,83.83 369.20,84.49 369.55,85.56 369.90,86.53 370.25,87.28 370.60,87.53 370.95,87.81 371.30,87.81 371.65,87.99 372.00,87.72 372.35,87.88 372.70,87.86 373.05,88.04 373.40,87.66 373.75,87.43 374.10,87.26 374.45,87.12 374.80,86.61 375.15,85.49 375.50,83.42 375.85,80.41 376.20,77.22 376.55,76.07 376.90,78.02 377.25,81.47 377.60,84.11 377.95,85.54 378.30,86.40 378.65,86.83 379.00,87.08 379.35,86.87 379.70,86.26 380.05,84.64 380.40,81.07 380.75,74.27 381.10,66.99 381.45,64.01 381.80,69.36 382.15,76.98 382.50,82.79 382.85,85.45 383.20,86.64 383.55,86.70 383.90,86.95 384.25,87.06 384.60,87.43 384.95,87.47 385.30,87.62 385.65,87.21 386.00,86.85 386.35,85.89 386.70,85.43 387.05,85.37 387.40,86.39 387.75,87.01 388.10,87.73 388.45,87.90 388.80,88.13 389.15,87.85 389.50,87.39 389.85,87.07 390.20,87.02 390.55,86.25 390.90,85.99 391.25,85.73 391.60,86.94 391.95,87.50 392.30,87.75 392.65,87.54 393.00,87.57 393.35,87.79 393.70,87.68 394.05,87.44 394.40,86.98 394.75,86.59 395.10,86.11 395.45,86.17 395.80,86.54 396.15,87.24 396.50,87.54 396.85,87.71 397.20,87.61 397.55,87.67 397.90,87.77 398.25,87.55 398.60,87.81 398.95,87.96 399.30,88.45 399.65,88.19 400.00,88.21 400.35,88.05 400.70,88.11 401.05,88.27 401.40,88.16 401.75,88.24 402.10,87.71 402.45,87.89 402.80,87.78 403.15,87.89 403.50,87.71 403.85,87.42 404.20,87.42 404.55,87.53 404.90,87.46 405.25,87.78 405.60,87.90 405.95,88.18 406.30,87.80 406.65,87.44 407.00,87.36 407.35,87.47 407.70,88.01 408.05,88.03 408.40,88.26 408.75,88.12 409.10,88.15 409.45,87.99 409.80,87.91 410.15,87.95 410.50,88.18 410.85,88.40 411.20,88.49 411.55,88.18 411.90,87.95 412.25,88.01 412.60,88.02 412.95,87.91 413.30,87.87 413.65,88.06 414.00,88.25 414.35,88.16 414.70,87.90 415.05,87.48 415.40,87.83 415.75,87.96 416.10,88.14 416.45,88.24 416.80,88.47 417.15,88.86 417.50,88.47 417.85,88.20 418.20,87.78 418.55,87.91 418.90,88.07 419.25,88.21 419.60,88.45 419.95,88.59 420.30,88.37 420.65,88.10 421.00,87.98 421.35,88.04 421.70,88.32 422.05,88.37 422.40,88.70 422.75,88.28 423.10,87.97 423.45,87.85 423.80,87.90 424.15,87.99 424.50,87.86 424.85,87.92 425.20,88.03 425.55,88.01 425.90,88.05 426.25,88.46 426.60,88.67 426.95,88.52 427.30,88.39 427.65,88.14 428.00,87.99 428.35,87.47 428.70,87.24 429.05,87.64 429.40,87.68 429.75,87.78 430.10,87.52 430.45,87.65 430.80,87.67 431.15,87.67 431.50,87.70 431.85,87.98 432.20,87.92 432.55,88.00 432.90,87.94 433.25,88.15 433.60,87.98 433.95,87.76 434.30,87.80 434.65,87.94 435.00,87.96 435.35,87.56 435.70,87.29 436.05,87.16 436.40,86.58 436.75,86.08 437.10,85.47 437.45,85.82 437.80,86.29 438.15,87.16 438.50,87.41 438.85,87.65 439.20,87.81 439.55,87.86 439.90,87.90 440.25,87.84 440.60,88.35 440.95,88.56 441.30,88.45 441.65,88.50 442.00,88.11 442.35,87.90 442.70,87.79 443.05,88.06 443.40,88.11 443.75,88.07 444.10,88.10 444.45,88.38 444.80,88.15 445.15,87.83 445.50,87.47 445.85,87.50 446.20,87.67 446.55,87.85 446.90,87.80 447.25,87.96 447.60,87.87 447.95,87.84 448.30,88.00 448.65,88.08 449.00,88.09 449.35,87.95 449.70,87.78 450.05,88.12 450.40,87.76 450.75,87.91 451.10,87.47 451.45,87.52 451.80,87.53 452.15,87.86 452.50,88.00 452.85,88.31 453.20,88.29 453.55,88.11 453.90,87.90 454.25,87.69 454.60,87.81 454.95,87.82 455.30,87.96 455.65,88.09 456.00,87.74 456.35,87.65 456.70,87.50 457.05,88.07 457.40,88.02 457.75,87.99 458.10,87.49 458.45,87.19 458.80,86.28 459.15,85.32 459.50,84.42 459.85,84.53 460.20,85.20 460.55,86.08 460.90,86.88 461.25,87.21 461.60,87.78 461.95,87.88 462.30,87.85 462.65,87.59 463.00,87.75 463.35,88.01 463.70,88.04 464.05,87.55 464.40,87.80 464.75,87.84 465.10,87.89 465.45,87.61 465.80,87.83 466.15,88.18 466.50,88.03 466.85,87.72 467.20,87.70 467.55,88.24 467.90,88.37 468.25,88.44 468.60,88.08 468.95,88.05 469.30,87.79 469.65,87.64 470.00,87.43 470.35,87.49 470.70,87.88 471.05,88.08 471.40,88.35 471.75,88.28 472.10,88.30 472.45,88.05 472.80,88.26 473.15,88.41 473.50,88.67 473.85,88.72 474.20,88.78 474.55,88.62 474.90,88.30 475.25,88.16 475.60,88.46 475.95,88.25 476.30,87.89 476.65,87.48 477.00,87.63 477.35,87.82 477.70,88.03 478.05,88.12 478.40,88.20 478.75,88.07 479.10,88.26 479.45,88.57 479.80,88.81 480.15,88.46 480.50,88.34 480.85,87.89 481.20,87.65 481.55,87.70 481.90,87.95 482.25,88.19 482.60,87.86 482.95,87.45 483.30,86.63 483.65,85.69 484.00,85.18 484.35,85.61 484.70,86.37 485.05,86.84 485.40,87.61 485.75,87.76 486.10,88.01 486.45,87.78 486.80,87.91 487.15,88.10 487.50,88.39 487.85,88.62 488.20,88.48 488.55,88.17 488.90,87.95 489.25,88.21 489.60,88.03 489.95,87.90 490.30,87.45 490.65,87.67 491.00,87.87 491.35,88.24 491.70,88.29 492.05,88.05 492.40,87.88 492.75,87.59 493.10,87.96 493.45,88.15 493.80,88.10 494.15,87.99 494.50,87.88 494.85,88.11 495.20,88.14 495.55,88.03 495.90,87.96 496.25,87.76 496.60,87.75 496.95,87.64 497.30,87.91 497.65,88.10 498.00,88.21 498.35,87.79 498.70,88.03 499.05,88.06 499.40,88.31 499.75,87.98 500.10,88.04 500.45,87.66 500.80,86.92 501.15,86.59 501.50,86.90 501.85,87.48 502.20,87.96 502.55,87.99 502.90,88.16 503.25,87.84 503.60,88.03 503.95,87.88 504.30,88.13 504.65,88.04 505.00,88.17 505.35,88.09 505.70,87.83 506.05,87.74 506.40,87.73 506.75,87.91 507.10,88.16 507.45,88.26 507.80,88.21 508.15,88.21 508.50,88.04 508.85,88.23 509.20,88.24 509.55,88.11 509.90,87.90 510.25,87.71 510.60,87.84 510.95,87.71 511.30,87.82 511.65,87.88 512.00,88.16 512.35,88.11 512.70,88.19 513.05,88.04 513.40,88.04 513.75,87.87 514.10,87.92 514.45,87.74 514.80,87.99 515.15,87.69 515.50,87.71 515.85,87.63 516.20,87.95 516.55,87.96 516.90,88.02 517.25,87.92 517.60,87.98 517.95,87.88 518.30,87.95 518.65,87.91 519.00,87.86 519.35,88.08 519.70,88.02 520.05,88.09 520.40,87.94 520.75,88.02 521.10,87.74 521.45,88.01 521.80,88.15 522.15,88.39 522.50,88.08 522.85,88.24 523.20,88.10 523.55,87.99 523.90,87.63 524.25,87.72 524.60,87.92 524.95,87.74 525.30,87.78 525.65,87.77 526.00,88.23 526.35,88.13 526.70,88.31 527.05,88.43 527.40,88.37 527.75,88.04 528.10,87.69 528.45,87.59 528.80,87.15 529.15,86.87 529.50,86.63 529.85,87.24 530.20,87.55 530.55,88.16 530.90,88.19 531.25,88.26 531.60,88.08 531.95,88.22 532.30,87.82 532.65,87.93 533.00,87.63 533.35,88.23 533.70,88.02 534.05,88.14 534.40,87.85 534.75,88.14 535.10,88.12 535.45,87.96 535.80,87.82 536.15,88.00 536.50,88.27 536.85,88.19 537.20,87.82 537.55,87.52 537.90,87.61 538.25,87.77 538.60,87.91 538.95,87.85 539.30,87.90 539.65,88.16 540.00,88.39 540.35,88.29 540.70,88.21 541.05,88.02 541.40,88.28 541.75,88.32 542.10,88.50 542.45,88.64 542.80,88.64 543.15,88.64 543.50,88.51 543.85,88.20 544.20,88.02 544.55,87.76 544.90,88.04 545.25,88.09 545.60,87.96 545.95,87.64" fill="none" stroke="#1068dc" stroke-width="1.2" stroke-linejoin="round"/>
<polyline points="301.30,133.27 301.65,133.55 302.00,133.38 302.35,133.53 302.70,133.09 303.05,133.60 303.40,133.65 303.75,134.20 304.10,133.96 304.45,133.99 304.80,133.74 305.15,133.70 305.50,133.67 305.85,133.52 306.20,133.58 306.55,133.66 306.90,133.86 307.25,133.85 307.60,134.07 307.95,134.07 308.30,134.05 308.65,133.74 309.00,133.65 309.35,133.69 309.70,133.61 310.05,133.99 310.40,134.05 310.75,134.13 311.10,133.93 311.45,134.23 311.80,134.17 312.15,133.97 312.50,134.04 312.85,133.86 313.20,133.89 313.55,133.62 313.90,134.18 314.25,134.10 314.60,133.63 314.95,133.39 315.30,133.45 315.65,133.76 316.00,133.73 316.35,133.84 316.70,133.94 317.05,133.81 317.40,133.97 317.75,134.15 318.10,134.22 318.45,133.96 318.80,133.84 319.15,133.91 319.50,133.82 319.85,133.64 320.20,133.73 320.55,133.87 320.90,133.89 321.25,133.76 321.60,133.77 321.95,133.82 322.30,133.50 322.65,133.77 323.00,133.80 323.35,133.96 323.70,133.84 324.05,133.86 324.40,133.99 324.75,134.00 325.10,134.29 325.45,134.37 325.80,134.45 326.15,134.44 326.50,134.20 326.85,133.89 327.20,133.68 327.55,133.58 327.90,133.61 328.25,133.69 328.60,134.10 328.95,134.23 329.30,133.75 329.65,133.95 330.00,133.94 330.35,134.34 330.70,134.07 331.05,133.73 331.40,133.39 331.75,133.14 332.10,133.68 332.45,133.77 332.80,133.92 333.15,133.59 333.50,133.80 333.85,133.91 334.20,133.99 334.55,133.72 334.90,133.17 335.25,133.16 335.60,133.39 335.95,134.04 336.30,134.00 336.65,133.87 337.00,133.74 337.35,133.53 337.70,133.46 338.05,133.25 338.40,133.52 338.75,133.99 339.10,134.26 339.45,134.39 339.80,134.11 340.15,134.03 340.50,133.80 340.85,133.72 341.20,133.31 341.55,133.20 341.90,133.04 342.25,133.53 342.60,133.81 342.95,134.17 343.30,134.28 343.65,134.13 344.00,134.12 344.35,134.17 344.70,134.21 345.05,134.21 345.40,133.89 345.75,133.63 346.10,133.47 346.45,133.33 346.80,133.47 347.15,133.09 347.50,132.74 347.85,131.77 348.20,131.82 348.55,132.30 348.90,133.21 349.25,133.28 349.60,133.36 349.95,133.63 350.30,133.87 350.65,133.95 351.00,133.56 351.35,133.33 351.70,133.47 352.05,133.80 352.40,133.74 352.75,133.41 353.10,133.15 353.45,133.22 353.80,133.51 354.15,133.68 354.50,133.97 354.85,133.75 355.20,133.38 355.55,132.66 355.90,132.07 356.25,130.91 356.60,129.91 356.95,130.04 357.30,131.38 357.65,132.70 358.00,133.43 358.35,133.46 358.70,133.64 359.05,133.30 359.40,133.38 359.75,133.20 360.10,133.55 360.45,133.75 360.80,133.60 361.15,133.26 361.50,133.51 361.85,133.95 362.20,133.96 362.55,134.09 362.90,133.88 363.25,133.86 363.60,133.47 363.95,133.66 364.30,134.09 364.65,134.26 365.00,134.05 365.35,133.71 365.70,133.32 366.05,133.36 366.40,133.33 366.75,133.57 367.10,133.35 367.45,133.27 367.80,132.86 368.15,132.29 368.50,131.14 368.85,129.83 369.20,129.18 369.55,130.09 369.90,131.53 370.25,132.54 370.60,133.09 370.95,133.34 371.30,133.84 371.65,133.75 372.00,133.67 372.35,133.33 372.70,133.35 373.05,133.42 373.40,133.50 373.75,133.37 374.10,133.28 374.45,133.10 374.80,132.84 375.15,131.79 375.50,129.87 375.85,125.92 376.20,120.46 376.55,115.26 376.90,114.50 377.25,118.67 377.60,124.30 377.95,128.46 378.30,131.00 378.65,132.28 379.00,132.79 379.35,132.49 379.70,131.63 380.05,129.32 380.40,124.28 380.75,115.30 381.10,105.33 381.45,101.23 381.80,107.65 382.15,118.03 382.50,126.07 382.85,130.42 383.20,131.79 383.55,132.48 383.90,132.73 384.25,132.92 384.60,132.97 384.95,133.32 385.30,133.31 385.65,133.02 386.00,131.91 386.35,131.10 386.70,130.53 387.05,131.01 387.40,132.05 387.75,132.87 388.10,133.20 388.45,133.10 388.80,133.02 389.15,132.99 389.50,133.33 389.85,133.53 390.20,133.63 390.55,133.32 390.90,132.71 391.25,132.31 391.60,131.94 391.95,132.35 392.30,132.60 392.65,133.31 393.00,133.60 393.35,133.64 393.70,133.55 394.05,133.72 394.40,133.71 394.75,133.33 395.10,132.81 395.45,132.34 395.80,132.20 396.15,132.25 396.50,132.79 396.85,133.22 397.20,133.35 397.55,133.61 397.90,133.62 398.25,133.86 398.60,134.04 398.95,134.05 399.30,134.00 399.65,133.65 400.00,133.72 400.35,133.96 400.70,133.96 401.05,133.75 401.40,133.52 401.75,133.40 402.10,133.37 402.45,133.48 402.80,133.53 403.15,133.70 403.50,133.58 403.85,133.52 404.20,133.49 404.55,133.56 404.90,133.87 405.25,133.76 405.60,133.85 405.95,133.67 406.30,133.61 406.65,133.69 407.00,133.72 407.35,133.60 407.70,133.58 408.05,133.70 408.40,133.90 408.75,134.06 409.10,133.95 409.45,133.89 409.80,133.72 410.15,133.64 410.50,133.61 410.85,133.20 411.20,133.29 411.55,133.38 411.90,133.81 412.25,133.83 412.60,133.87 412.95,133.69 413.30,133.90 413.65,134.24 414.00,134.43 414.35,134.11 414.70,133.70 415.05,133.52 415.40,133.83 415.75,134.05 416.10,134.07 416.45,133.63 416.80,133.58 417.15,133.49 417.50,133.68 417.85,133.77 418.20,134.07 418.55,134.09 418.90,133.92 419.25,133.79 419.60,134.05 419.95,134.16 420.30,133.91 420.65,133.87 421.00,133.85 421.35,134.60 421.70,134.29 422.05,134.24 422.40,133.66 422.75,133.79 423.10,133.71 423.45,133.53 423.80,133.18 424.15,133.25 424.50,133.40 424.85,133.60 425.20,133.95 425.55,134.14 425.90,134.40 426.25,134.00 426.60,133.92 426.95,133.72 427.30,133.77 427.65,133.84 428.00,133.96 428.35,134.04 428.70,133.95 429.05,133.63 429.40,133.47 429.75,133.51 430.10,133.67 430.45,133.66 430.80,133.66 431.15,133.57 431.50,133.58 431.85,133.66 432.20,133.74 432.55,134.06 432.90,134.00 433.25,134.17 433.60,134.11 433.95,133.69 434.30,133.53 434.65,133.12 435.00,133.29 435.35,133.07 435.70,133.04 436.05,132.43 436.40,131.89 436.75,131.03 437.10,131.08 437.45,131.49 437.80,132.52 438.15,133.16 438.50,133.44 438.85,133.43 439.20,133.31 439.55,133.63 439.90,133.82 440.25,134.11 440.60,133.97 440.95,133.77 441.30,133.65 441.65,133.73 442.00,133.71 442.35,133.66 442.70,133.78 443.05,134.13 443.40,134.30 443.75,134.14 444.10,133.93 444.45,134.11 444.80,133.96 445.15,133.95 445.50,133.80 445.85,134.09 446.20,134.04 446.55,134.00 446.90,133.71 447.25,133.65 447.60,133.51 447.95,133.60 448.30,133.83 448.65,133.83 449.00,133.72 449.35,133.53 449.70,133.69 450.05,133.88 450.40,133.75 450.75,133.75 451.10,133.50 451.45,133.79 451.80,133.59 452.15,133.58 452.50,133.36 452.85,133.50 453.20,133.51 453.55,133.65 453.90,133.68 454.25,133.84 454.60,133.84 454.95,133.95 455.30,133.82 455.65,133.77 456.00,133.63 456.35,133.42 456.70,133.46 457.05,133.32 457.40,133.48 457.75,133.26 458.10,133.17 458.45,132.88 458.80,132.27 459.15,131.22 459.50,130.51 459.85,130.44 460.20,131.18 460.55,132.01 460.90,132.85 461.25,133.47 461.60,133.82 461.95,133.82 462.30,133.98 462.65,134.23 463.00,134.30 463.35,133.90 463.70,133.84 464.05,133.69 464.40,133.73 464.75,133.12 465.10,133.27 465.45,133.64 465.80,134.15 466.15,134.03 466.50,134.09 466.85,133.93 467.20,133.90 467.55,133.69 467.90,133.74 468.25,133.83 468.60,133.88 468.95,133.52 469.30,133.75 469.65,133.61 470.00,134.03 470.35,133.68 470.70,133.79 471.05,133.67 471.40,133.55 471.75,133.58 472.10,133.70 472.45,133.77 472.80,133.40 473.15,133.21 473.50,133.25 473.85,133.58 474.20,133.67 474.55,134.04 474.90,134.12 475.25,134.09 475.60,133.87 475.95,133.34 476.30,133.24 476.65,133.07 477.00,133.49 477.35,133.67 477.70,133.84 478.05,133.99 478.40,133.84 478.75,133.85 479.10,133.69 479.45,133.79 479.80,133.78 480.15,133.75 480.50,133.77 480.85,133.71 481.20,133.88 481.55,133.80 481.90,133.79 482.25,133.87 482.60,133.64 482.95,133.05 483.30,131.94 483.65,130.80 484.00,130.41 484.35,130.78 484.70,131.89 485.05,132.82 485.40,133.44 485.75,133.89 486.10,133.80 486.45,133.82 486.80,133.59 487.15,133.89 487.50,133.86 487.85,133.76 488.20,133.60 488.55,133.43 488.90,133.78 489.25,133.72 489.60,133.54 489.95,133.34 490.30,133.54 490.65,133.92 491.00,133.89 491.35,133.83 491.70,133.87 492.05,134.19 492.40,134.23 492.75,134.20 493.10,133.86 493.45,133.77 493.80,133.76 494.15,133.88 494.50,133.90 494.85,133.68 495.20,133.76 495.55,133.70 495.90,133.93 496.25,133.83 496.60,133.78 496.95,133.76 497.30,133.89 497.65,133.89 498.00,133.90 498.35,133.66 498.70,133.76 499.05,133.71 499.40,133.60 499.75,133.62 500.10,133.29 500.45,133.19 500.80,132.54 501.15,132.39 501.50,132.74 501.85,133.04 502.20,133.19 502.55,133.16 502.90,133.18 503.25,133.47 503.60,133.79 503.95,133.96 504.30,134.05 504.65,133.86 505.00,133.96 505.35,133.89 505.70,134.03 506.05,133.99 506.40,134.06 506.75,133.85 507.10,133.67 507.45,133.67 507.80,133.66 508.15,133.95 508.50,134.00 508.85,134.23 509.20,133.85 509.55,133.66 509.90,133.36 510.25,133.51 510.60,133.66 510.95,133.72 511.30,133.87 511.65,133.56 512.00,133.43 512.35,133.40 512.70,133.58 513.05,133.63 513.40,133.62 513.75,133.65 514.10,133.58 514.45,133.84 514.80,133.79 515.15,134.04 515.50,133.88 515.85,134.12 516.20,133.94 516.55,133.71 516.90,133.63 517.25,133.75 517.60,133.55 517.95,133.10 518.30,132.98 518.65,133.27 519.00,133.62 519.35,133.76 519.70,133.67 520.05,134.11 520.40,134.18 520.75,134.51 521.10,134.16 521.45,133.72 521.80,133.56 522.15,133.44 522.50,133.81 522.85,133.76 523.20,133.94 523.55,133.74 523.90,133.71 524.25,133.61 524.60,133.62 524.95,133.61 525.30,133.70 525.65,134.09 526.00,134.12 526.35,134.15 526.70,133.69 527.05,133.64 527.40,133.54 527.75,133.71 528.10,133.44 528.45,133.11 528.80,132.57 529.15,132.61 529.50,132.84 529.85,133.37 530.20,133.53 530.55,133.67 530.90,133.56 531.25,133.53 531.60,133.24 531.95,133.18 532.30,133.12 532.65,133.38 533.00,133.59 533.35,133.59 533.70,133.59 534.05,133.63 534.40,133.97 534.75,133.97 535.10,133.95 535.45,133.75 535.80,133.91 536.15,133.64 536.50,133.73 536.85,133.26 537.20,133.74 537.55,133.84 537.90,133.87 538.25,133.54 538.60,133.20 538.95,133.25 539.30,133.26 539.65,133.34 540.00,133.76 540.35,133.74 540.70,133.71 541.05,133.54 541.40,133.68 541.75,133.96 542.10,134.05 542.45,133.77 542.80,133.53 543.15,133.43 543.50,133.52 543.85,133.75 544.20,133.73 544.55,133.84 544.90,133.68 545.25,133.73 545.60,133.52 545.95,133.36" fill="none" stroke="#ff2030" stroke-width="1.2" stroke-linejoin="round"/>
<polyline points="301.30,179.28 301.65,179.09 302.00,179.02 302.35,179.51 302.70,179.63 303.05,179.37 303.40,179.20 303.75,179.01 304.10,179.45 304.45,179.36 304.80,179.81 305.15,179.61 305.50,179.49 305.85,179.00 306.20,178.97 306.55,179.19 306.90,179.59 307.25,179.68 307.60,179.50 307.95,179.40 308.30,179.14 308.65,179.33 309.00,179.14 309.35,179.58 309.70,179.66 310.05,179.82 310.40,179.45 310.75,179.38 311.10,179.38 311.45,179.45 311.80,179.28 312.15,179.41 312.50,179.43 312.85,179.59 313.20,179.61 313.55,179.45 313.90,179.65 314.25,179.59 314.60,179.72 314.95,179.31 315.30,178.97 315.65,179.21 316.00,178.97 316.35,179.29 316.70,179.17 317.05,179.46 317.40,179.24 317.75,179.16 318.10,179.23 318.45,179.44 318.80,179.37 319.15,179.57 319.50,179.58 319.85,179.67 320.20,179.60 320.55,179.37 320.90,179.41 321.25,179.40 321.60,179.77 321.95,179.75 322.30,179.65 322.65,179.37 323.00,179.35 323.35,179.21 323.70,179.49 324.05,179.42 324.40,179.49 324.75,179.10 325.10,179.30 325.45,179.83 325.80,180.40 326.15,180.44 326.50,180.05 326.85,179.59 327.20,179.29 327.55,179.35 327.90,179.34 328.25,179.80 328.60,179.65 328.95,179.51 329.30,178.92 329.65,178.70 330.00,178.94 330.35,179.27 330.70,179.36 331.05,179.04 331.40,179.03 331.75,179.15 332.10,179.41 332.45,179.37 332.80,179.30 333.15,179.01 333.50,179.03 333.85,179.16 334.20,179.45 334.55,179.57 334.90,179.70 335.25,179.59 335.60,179.54 335.95,179.07 336.30,179.25 336.65,179.15 337.00,179.64 337.35,179.68 337.70,179.54 338.05,179.37 338.40,179.39 338.75,179.45 339.10,179.48 339.45,179.21 339.80,179.39 340.15,179.42 340.50,179.38 340.85,179.08 341.20,178.70 341.55,178.95 341.90,179.09 342.25,179.32 342.60,179.11 342.95,179.04 343.30,179.24 343.65,179.41 344.00,179.21 344.35,179.09 344.70,179.01 345.05,179.29 345.40,179.29 345.75,179.51 346.10,179.57 346.45,179.66 346.80,179.36 347.15,178.58 347.50,177.75 347.85,176.51 348.20,176.12 348.55,176.55 348.90,177.97 349.25,178.81 349.60,179.07 349.95,178.99 350.30,178.91 350.65,178.87 351.00,178.84 351.35,179.23 351.70,179.48 352.05,179.59 352.40,179.64 352.75,179.47 353.10,179.27 353.45,179.02 353.80,178.99 354.15,179.11 354.50,179.02 354.85,178.05 355.20,176.42 355.55,173.70 355.90,171.56 356.25,171.49 356.60,173.96 356.95,176.80 357.30,178.38 357.65,179.26 358.00,179.21 358.35,179.35 358.70,179.02 359.05,179.14 359.40,178.78 359.75,179.14 360.10,179.51 360.45,179.90 360.80,179.59 361.15,179.34 361.50,179.05 361.85,179.09 362.20,179.29 362.55,179.70 362.90,179.83 363.25,179.71 363.60,179.44 363.95,179.37 364.30,179.21 364.65,179.28 365.00,179.09 365.35,179.23 365.70,179.06 366.05,179.11 366.40,178.80 366.75,178.80 367.10,178.20 367.45,176.28 367.80,172.25 368.15,167.10 368.50,163.47 368.85,164.74 369.20,169.50 369.55,174.37 369.90,177.18 370.25,178.58 370.60,178.68 370.95,178.81 371.30,178.69 371.65,178.77 372.00,178.71 372.35,178.44 372.70,178.30 373.05,178.15 373.40,177.98 373.75,177.35 374.10,175.22 374.45,170.22 374.80,161.51 375.15,152.58 375.50,150.33 375.85,157.33 376.20,166.78 376.55,173.29 376.90,176.55 377.25,177.69 377.60,178.39 377.95,178.61 378.30,178.54 378.65,178.38 379.00,178.23 379.35,178.02 379.70,177.32 380.05,174.93 380.40,169.20 380.75,159.38 381.10,148.52 381.45,144.40 381.80,151.53 382.15,162.21 382.50,171.22 382.85,175.35 383.20,177.47 383.55,177.75 383.90,178.02 384.25,178.25 384.60,178.13 384.95,177.80 385.30,176.44 385.65,174.94 386.00,173.33 386.35,172.89 386.70,174.16 387.05,176.33 387.40,178.04 387.75,179.03 388.10,179.28 388.45,179.45 388.80,179.41 389.15,179.45 389.50,179.32 389.85,179.06 390.20,178.33 390.55,177.36 390.90,176.75 391.25,176.96 391.60,178.05 391.95,178.73 392.30,178.84 392.65,178.94 393.00,179.24 393.35,179.62 393.70,179.58 394.05,179.45 394.40,179.40 394.75,179.58 395.10,179.42 395.45,179.32 395.80,178.89 396.15,178.94 396.50,178.95 396.85,179.08 397.20,179.19 397.55,179.45 397.90,179.35 398.25,179.34 398.60,179.08 398.95,179.18 399.30,179.10 399.65,179.26 400.00,179.12 400.35,179.42 400.70,179.35 401.05,179.49 401.40,179.02 401.75,179.19 402.10,179.41 402.45,179.79 402.80,179.65 403.15,179.81 403.50,179.92 403.85,180.22 404.20,180.01 404.55,179.92 404.90,179.53 405.25,179.50 405.60,179.31 405.95,179.37 406.30,179.36 406.65,179.42 407.00,179.41 407.35,179.42 407.70,179.36 408.05,179.25 408.40,179.16 408.75,179.32 409.10,179.54 409.45,179.77 409.80,180.04 410.15,179.78 410.50,179.74 410.85,179.17 411.20,179.24 411.55,178.99 411.90,179.19 412.25,179.48 412.60,179.84 412.95,179.88 413.30,179.83 413.65,179.66 414.00,179.42 414.35,179.52 414.70,179.37 415.05,179.47 415.40,179.21 415.75,179.15 416.10,179.13 416.45,179.26 416.80,179.26 417.15,179.25 417.50,178.88 417.85,178.73 418.20,178.87 418.55,179.20 418.90,179.42 419.25,179.62 419.60,179.39 419.95,179.51 420.30,179.09 420.65,179.11 421.00,178.79 421.35,178.08 421.70,177.49 422.05,176.90 422.40,177.41 422.75,177.96 423.10,178.72 423.45,178.92 423.80,178.93 424.15,178.99 424.50,179.17 424.85,179.31 425.20,179.31 425.55,179.59 425.90,179.50 426.25,179.08 426.60,178.79 426.95,178.69 427.30,179.03 427.65,178.93 428.00,179.20 428.35,179.52 428.70,179.65 429.05,179.39 429.40,178.94 429.75,178.79 430.10,178.82 430.45,179.06 430.80,179.25 431.15,179.62 431.50,179.67 431.85,179.62 432.20,179.37 432.55,179.16 432.90,179.16 433.25,179.13 433.60,178.95 433.95,179.29 434.30,179.57 434.65,179.70 435.00,179.12 435.35,178.50 435.70,177.91 436.05,176.81 436.40,175.18 436.75,174.17 437.10,174.39 437.45,175.60 437.80,176.68 438.15,177.65 438.50,178.33 438.85,179.02 439.20,179.30 439.55,179.27 439.90,179.22 440.25,178.89 440.60,179.06 440.95,179.20 441.30,179.39 441.65,179.61 442.00,179.34 442.35,179.69 442.70,179.60 443.05,180.13 443.40,179.91 443.75,179.86 444.10,179.41 444.45,179.28 444.80,179.57 445.15,179.39 445.50,179.57 445.85,179.55 446.20,179.87 446.55,179.53 446.90,179.48 447.25,179.41 447.60,179.71 447.95,179.14 448.30,178.55 448.65,177.80 449.00,177.26 449.35,177.20 449.70,177.62 450.05,178.35 450.40,178.84 450.75,179.55 451.10,179.65 451.45,179.60 451.80,179.07 452.15,179.16 452.50,179.27 452.85,179.35 453.20,179.02 453.55,179.28 453.90,179.33 454.25,179.46 454.60,179.19 454.95,179.04 455.30,179.01 455.65,178.40 456.00,177.81 456.35,176.33 456.70,175.50 457.05,175.10 457.40,176.26 457.75,177.42 458.10,178.18 458.45,178.72 458.80,178.92 459.15,179.34 459.50,179.25 459.85,179.18 460.20,179.03 460.55,179.14 460.90,179.13 461.25,178.91 461.60,178.44 461.95,177.68 462.30,177.10 462.65,177.13 463.00,177.63 463.35,178.39 463.70,178.79 464.05,179.19 464.40,178.99 464.75,179.35 465.10,179.55 465.45,179.71 465.80,179.53 466.15,179.51 466.50,179.89 466.85,179.84 467.20,179.85 467.55,179.41 467.90,179.34 468.25,179.16 468.60,179.25 468.95,179.11 469.30,179.23 469.65,179.13 470.00,179.17 470.35,179.06 470.70,179.43 471.05,179.74 471.40,179.73 471.75,179.34 472.10,178.95 472.45,178.98 472.80,179.27 473.15,179.62 473.50,179.60 473.85,179.35 474.20,179.29 474.55,179.50 474.90,179.62 475.25,179.63 475.60,179.39 475.95,179.35 476.30,179.50 476.65,179.46 477.00,179.69 477.35,179.42 477.70,179.50 478.05,179.42 478.40,179.58 478.75,179.49 479.10,179.34 479.45,179.23 479.80,179.32 480.15,179.32 480.50,179.43 480.85,179.25 481.20,179.37 481.55,179.33 481.90,179.20 482.25,178.84 482.60,178.09 482.95,177.16 483.30,175.91 483.65,174.83 484.00,174.42 484.35,175.05 484.70,176.25 485.05,177.28 485.40,178.09 485.75,178.71 486.10,179.46 486.45,179.39 486.80,179.06 487.15,178.93 487.50,179.09 487.85,179.36 488.20,179.24 488.55,179.40 488.90,179.48 489.25,179.51 489.60,179.41 489.95,179.29 490.30,179.45 490.65,179.49 491.00,179.56 491.35,179.57 491.70,179.54 492.05,179.42 492.40,179.46 492.75,179.37 493.10,179.25 493.45,178.98 493.80,179.06 494.15,179.18 494.50,179.24 494.85,179.26 495.20,179.40 495.55,179.42 495.90,179.31 496.25,179.26 496.60,179.43 496.95,179.28 497.30,179.12 497.65,178.68 498.00,178.45 498.35,178.10 498.70,177.96 499.05,177.81 499.40,177.95 499.75,178.12 500.10,178.75 500.45,179.31 500.80,179.72 501.15,179.75 501.50,179.53 501.85,179.28 502.20,179.17 502.55,179.38 502.90,179.42 503.25,179.27 503.60,179.33 503.95,179.19 504.30,179.57 504.65,179.22 505.00,179.56 505.35,179.26 505.70,179.61 506.05,179.44 506.40,179.52 506.75,179.40 507.10,179.41 507.45,179.20 507.80,179.03 508.15,178.96 508.50,179.18 508.85,178.72 509.20,179.02 509.55,179.31 509.90,179.90 510.25,179.59 510.60,179.18 510.95,179.01 511.30,178.98 511.65,179.29 512.00,179.07 512.35,179.09 512.70,178.88 513.05,179.03 513.40,179.42 513.75,179.37 514.10,179.60 514.45,179.28 514.80,179.30 515.15,179.17 515.50,179.41 515.85,179.31 516.20,179.31 516.55,179.23 516.90,179.19 517.25,179.58 517.60,179.43 517.95,179.59 518.30,179.58 518.65,179.40 519.00,179.70 519.35,179.32 519.70,179.45 520.05,179.30 520.40,179.68 520.75,179.77 521.10,179.66 521.45,179.40 521.80,179.40 522.15,179.42 522.50,179.42 522.85,179.32 523.20,179.13 523.55,178.77 523.90,178.92 524.25,178.97 524.60,179.34 524.95,179.37 525.30,179.47 525.65,179.55 526.00,179.50 526.35,179.65 526.70,179.52 527.05,179.38 527.40,179.30 527.75,179.05 528.10,179.06 528.45,178.38 528.80,177.82 529.15,177.34 529.50,177.91 529.85,178.47 530.20,178.85 530.55,179.04 530.90,179.73 531.25,179.51 531.60,179.35 531.95,178.87 532.30,179.02 532.65,179.41 533.00,179.57 533.35,179.80 533.70,179.42 534.05,179.57 534.40,179.65 534.75,179.65 535.10,179.37 535.45,179.32 535.80,179.37 536.15,179.30 536.50,179.16 536.85,179.06 537.20,179.41 537.55,179.24 537.90,179.44 538.25,179.25 538.60,179.47 538.95,179.29 539.30,179.46 539.65,179.42 540.00,179.70 540.35,179.60 540.70,179.67 541.05,179.37 541.40,179.30 541.75,179.33 542.10,179.58 542.45,179.41 542.80,179.24 543.15,178.95 543.50,179.03 543.85,178.88 544.20,179.14 544.55,179.45 544.90,179.49 545.25,179.57 545.60,179.29 545.95,179.45" fill="none" stroke="#333333" stroke-width="1.2" stroke-linejoin="round"/>
<rect x="301.0" y="19.6" width="245.39999999999998" height="165.6" fill="none" stroke="#6e6e6e" stroke-width="1.3"/>
<line x1="314.60" y1="185.2" x2="314.60" y2="187.39999999999998" stroke="#6e6e6e" stroke-width="1.0"/>
<line x1="328.20" y1="185.2" x2="328.20" y2="186.5" stroke="#6e6e6e" stroke-width="1.0"/>
<line x1="341.80" y1="185.2" x2="341.80" y2="187.39999999999998" stroke="#6e6e6e" stroke-width="1.0"/>
<line x1="355.40" y1="185.2" x2="355.40" y2="186.5" stroke="#6e6e6e" stroke-width="1.0"/>
<line x1="369.00" y1="185.2" x2="369.00" y2="187.39999999999998" stroke="#6e6e6e" stroke-width="1.0"/>
<line x1="382.60" y1="185.2" x2="382.60" y2="186.5" stroke="#6e6e6e" stroke-width="1.0"/>
<line x1="396.20" y1="185.2" x2="396.20" y2="187.39999999999998" stroke="#6e6e6e" stroke-width="1.0"/>
<line x1="409.80" y1="185.2" x2="409.80" y2="186.5" stroke="#6e6e6e" stroke-width="1.0"/>
<line x1="423.40" y1="185.2" x2="423.40" y2="187.39999999999998" stroke="#6e6e6e" stroke-width="1.0"/>
<line x1="437.00" y1="185.2" x2="437.00" y2="186.5" stroke="#6e6e6e" stroke-width="1.0"/>
<line x1="450.60" y1="185.2" x2="450.60" y2="187.39999999999998" stroke="#6e6e6e" stroke-width="1.0"/>
<line x1="464.20" y1="185.2" x2="464.20" y2="186.5" stroke="#6e6e6e" stroke-width="1.0"/>
<line x1="477.80" y1="185.2" x2="477.80" y2="187.39999999999998" stroke="#6e6e6e" stroke-width="1.0"/>
<line x1="491.40" y1="185.2" x2="491.40" y2="186.5" stroke="#6e6e6e" stroke-width="1.0"/>
<line x1="505.00" y1="185.2" x2="505.00" y2="187.39999999999998" stroke="#6e6e6e" stroke-width="1.0"/>
<line x1="518.60" y1="185.2" x2="518.60" y2="186.5" stroke="#6e6e6e" stroke-width="1.0"/>
<line x1="532.20" y1="185.2" x2="532.20" y2="187.39999999999998" stroke="#6e6e6e" stroke-width="1.0"/>
<circle cx="346.0" cy="81.1" r="2.5" fill="#000"/>
<polygon points="345.80,84.95 351.60,84.95 348.70,80.05" fill="#000"/>
<polygon points="354.30,76.35 360.10,76.35 357.20,71.45" fill="#000"/>
<circle cx="357.2" cy="79.2" r="2.5" fill="#000"/>
<polygon points="366.00,82.75 371.80,82.75 368.90,77.85" fill="#000"/>
<polygon points="373.60,74.05 379.40,74.05 376.50,69.15" fill="#000"/>
<rect x="379.40" y="58.70" width="4.0" height="4.0" fill="#fff" stroke="#6a6a6a" stroke-width="0.8"/>
<polygon points="383.70,83.45 389.50,83.45 386.60,78.55" fill="#000"/>
<circle cx="391.0" cy="81.5" r="2.5" fill="#000"/>
<polygon points="392.40,83.45 398.20,83.45 395.30,78.55" fill="#000"/>
<polygon points="434.20,79.55 440.00,79.55 437.10,74.65" fill="#000"/>
<rect x="435.10" y="79.70" width="4.0" height="4.0" fill="#fff" stroke="#6a6a6a" stroke-width="0.8"/>
<polygon points="456.80,78.85 462.60,78.85 459.70,73.95" fill="#000"/>
<circle cx="459.7" cy="82.1" r="2.5" fill="#000"/>
<rect x="482.00" y="79.70" width="4.0" height="4.0" fill="#fff" stroke="#6a6a6a" stroke-width="0.8"/>
<rect x="527.20" y="77.00" width="4.0" height="4.0" fill="#fff" stroke="#6a6a6a" stroke-width="0.8"/>
<circle cx="529.2" cy="83.6" r="2.5" fill="#000"/>
<polygon points="345.30,130.95 351.10,130.95 348.20,126.05" fill="#000"/>
<polygon points="353.80,123.95 359.60,123.95 356.70,119.05" fill="#000"/>
<circle cx="356.7" cy="125.9" r="2.5" fill="#000"/>
<polygon points="366.30,128.15 372.10,128.15 369.20,123.25" fill="#000"/>
<polygon points="373.90,112.65 379.70,112.65 376.80,107.75" fill="#000"/>
<rect x="379.40" y="96.60" width="4.0" height="4.0" fill="#fff" stroke="#6a6a6a" stroke-width="0.8"/>
<polygon points="383.90,128.85 389.70,128.85 386.80,123.95" fill="#000"/>
<circle cx="391.8" cy="128.4" r="2.5" fill="#000"/>
<polygon points="392.90,129.25 398.70,129.25 395.80,124.35" fill="#000"/>
<polygon points="434.00,124.35 439.80,124.35 436.90,119.45" fill="#000"/>
<rect x="434.90" y="124.80" width="4.0" height="4.0" fill="#fff" stroke="#6a6a6a" stroke-width="0.8"/>
<polygon points="456.80,124.65 462.60,124.65 459.70,119.75" fill="#000"/>
<circle cx="459.7" cy="127.6" r="2.5" fill="#000"/>
<rect x="482.00" y="125.30" width="4.0" height="4.0" fill="#fff" stroke="#6a6a6a" stroke-width="0.8"/>
<rect x="527.20" y="123.10" width="4.0" height="4.0" fill="#fff" stroke="#6a6a6a" stroke-width="0.8"/>
<circle cx="529.2" cy="129.4" r="2.5" fill="#000"/>
<polygon points="345.30,173.95 351.10,173.95 348.20,169.05" fill="#000"/>
<polygon points="353.20,165.05 359.00,165.05 356.10,160.15" fill="#000"/>
<circle cx="356.1" cy="167.5" r="2.5" fill="#000"/>
<polygon points="365.70,162.35 371.50,162.35 368.60,157.45" fill="#000"/>
<polygon points="372.50,149.25 378.30,149.25 375.40,144.35" fill="#000"/>
<rect x="379.40" y="139.30" width="4.0" height="4.0" fill="#fff" stroke="#6a6a6a" stroke-width="0.8"/>
<polygon points="383.40,171.05 389.20,171.05 386.30,166.15" fill="#000"/>
<circle cx="391.0" cy="174.8" r="2.5" fill="#000"/>
<polygon points="419.20,176.05 425.00,176.05 422.10,171.15" fill="#000"/>
<polygon points="434.00,169.55 439.80,169.55 436.90,164.65" fill="#000"/>
<rect x="434.90" y="169.40" width="4.0" height="4.0" fill="#fff" stroke="#6a6a6a" stroke-width="0.8"/>
<polygon points="446.30,175.45 452.10,175.45 449.20,170.55" fill="#000"/>
<polygon points="454.10,172.75 459.90,172.75 457.00,167.85" fill="#000"/>
<polygon points="459.50,175.45 465.30,175.45 462.40,170.55" fill="#000"/>
<rect x="482.00" y="167.80" width="4.0" height="4.0" fill="#fff" stroke="#6a6a6a" stroke-width="0.8"/>
<polygon points="496.10,176.05 501.90,176.05 499.00,171.15" fill="#000"/>
<rect x="527.20" y="167.80" width="4.0" height="4.0" fill="#fff" stroke="#6a6a6a" stroke-width="0.8"/>
<circle cx="529.2" cy="174.4" r="2.5" fill="#000"/>
<circle cx="39.6" cy="243.8" r="2.45" fill="#000"/>
<rect x="79.50" y="242.00" width="3.6" height="3.6" fill="#fff" stroke="#6a6a6a" stroke-width="0.8"/>
<polygon points="140.05,246.00 145.75,246.00 142.90,241.20" fill="#000"/>
<polyline points="19.80,327.20 20.15,327.20 20.50,327.19 20.85,327.06 21.20,327.06 21.55,327.19 21.90,327.32 22.25,327.44 22.60,327.36 22.95,327.35 23.30,327.27 23.65,327.10 24.00,327.14 24.35,327.17 24.70,327.37 25.05,327.13 25.40,326.92 25.75,326.79 26.10,326.91 26.45,327.10 26.80,327.18 27.15,327.27 27.50,327.18 27.85,327.21 28.20,327.20 28.55,327.20 28.90,327.33 29.25,327.35 29.60,327.52 29.95,327.30 30.30,327.18 30.65,327.04 31.00,327.08 31.35,327.21 31.70,327.27 32.05,327.24 32.40,327.09 32.75,327.02 33.10,327.17 33.45,327.19 33.80,327.26 34.15,327.18 34.50,327.12 34.85,327.10 35.20,327.18 35.55,327.13 35.90,327.10 36.25,326.97 36.60,327.08 36.95,327.15 37.30,327.16 37.65,327.10 38.00,327.13 38.35,327.20 38.70,327.42 39.05,327.48 39.40,327.45 39.75,327.37 40.10,327.12 40.45,327.14 40.80,327.07 41.15,327.15 41.50,326.98 41.85,326.94 42.20,326.93 42.55,327.17 42.90,327.07 43.25,326.99 43.60,326.89 43.95,327.21 44.30,327.40 44.65,327.20 45.00,326.83 45.35,326.81 45.70,326.92 46.05,327.05 46.40,327.11 46.75,327.28 47.10,327.40 47.45,327.33 47.80,327.27 48.15,327.40 48.50,327.44 48.85,327.44 49.20,327.35 49.55,327.14 49.90,327.21 50.25,327.25 50.60,327.45 50.95,327.14 51.30,326.99 51.65,327.02 52.00,327.04 52.35,327.08 52.70,327.10 53.05,327.14 53.40,327.31 53.75,327.26 54.10,327.37 54.45,327.25 54.80,327.26 55.15,327.29 55.50,327.36 55.85,327.24 56.20,327.19 56.55,327.18 56.90,327.24 57.25,327.20 57.60,327.19 57.95,327.32 58.30,327.36 58.65,327.14 59.00,326.99 59.35,327.01 59.70,327.11 60.05,327.25 60.40,327.17 60.75,327.31 61.10,327.05 61.45,327.06 61.80,326.99 62.15,327.19 62.50,327.29 62.85,327.13 63.20,326.74 63.55,326.22 63.90,325.80 64.25,325.72 64.60,326.10 64.95,326.51 65.30,326.70 65.65,326.54 66.00,325.94 66.35,325.35 66.70,324.91 67.05,325.23 67.40,325.81 67.75,326.43 68.10,326.91 68.45,327.06 68.80,327.15 69.15,327.26 69.50,327.06 69.85,326.93 70.20,326.78 70.55,327.06 70.90,327.18 71.25,327.11 71.60,327.13 71.95,327.12 72.30,327.09 72.65,327.22 73.00,327.16 73.35,327.00 73.70,326.34 74.05,325.32 74.40,323.77 74.75,321.86 75.10,321.43 75.45,322.82 75.80,324.72 76.15,326.01 76.50,326.62 76.85,327.05 77.20,327.29 77.55,327.08 77.90,326.99 78.25,326.84 78.60,327.07 78.95,327.21 79.30,327.00 79.65,327.04 80.00,326.81 80.35,327.12 80.70,326.88 81.05,327.03 81.40,327.07 81.75,327.19 82.10,327.18 82.45,327.14 82.80,327.15 83.15,327.11 83.50,327.16 83.85,327.22 84.20,327.17 84.55,327.24 84.90,326.96 85.25,326.92 85.60,326.22 85.95,325.33 86.30,323.47 86.65,321.27 87.00,320.16 87.35,321.08 87.70,323.13 88.05,324.93 88.40,325.96 88.75,326.38 89.10,326.30 89.45,326.53 89.80,326.68 90.15,326.91 90.50,326.63 90.85,326.47 91.20,326.08 91.55,326.05 91.90,325.91 92.25,325.46 92.60,324.47 92.95,321.57 93.30,314.49 93.65,300.44 94.00,282.51 94.35,271.21 94.70,278.04 95.05,295.46 95.40,310.99 95.75,320.04 96.10,323.64 96.45,325.04 96.80,325.55 97.15,325.99 97.50,325.90 97.85,325.42 98.20,324.33 98.55,321.59 98.90,316.51 99.25,310.23 99.60,306.97 99.95,310.04 100.30,316.29 100.65,321.39 101.00,324.55 101.35,325.80 101.70,326.36 102.05,326.47 102.40,326.62 102.75,326.74 103.10,326.85 103.45,326.62 103.80,326.27 104.15,325.48 104.50,324.72 104.85,324.22 105.20,324.79 105.55,325.44 105.90,326.14 106.25,326.27 106.60,326.70 106.95,326.74 107.30,326.94 107.65,326.83 108.00,326.93 108.35,326.84 108.70,326.73 109.05,326.51 109.40,325.78 109.75,324.71 110.10,323.82 110.45,324.05 110.80,324.95 111.15,325.83 111.50,326.56 111.85,326.80 112.20,326.90 112.55,326.94 112.90,327.19 113.25,327.26 113.60,327.26 113.95,327.21 114.30,327.10 114.65,326.89 115.00,326.82 115.35,327.02 115.70,327.12 116.05,327.10 116.40,326.94 116.75,326.85 117.10,326.93 117.45,326.89 117.80,327.07 118.15,326.86 118.50,327.01 118.85,326.91 119.20,326.95 119.55,326.99 119.90,327.03 120.25,327.00 120.60,326.85 120.95,326.91 121.30,327.07 121.65,327.23 122.00,327.27 122.35,327.38 122.70,327.34 123.05,327.39 123.40,327.39 123.75,327.40 124.10,327.08 124.45,327.11 124.80,327.19 125.15,327.35 125.50,327.23 125.85,327.29 126.20,327.15 126.55,327.24 126.90,327.28 127.25,327.36 127.60,327.38 127.95,327.33 128.30,327.41 128.65,327.40 129.00,327.30 129.35,327.23 129.70,327.17 130.05,327.11 130.40,327.27 130.75,327.28 131.10,327.23 131.45,327.06 131.80,327.03 132.15,327.13 132.50,327.24 132.85,327.19 133.20,327.03 133.55,327.26 133.90,327.45 134.25,327.59 134.60,327.09 134.95,327.04 135.30,327.03 135.65,327.42 136.00,327.40 136.35,327.35 136.70,327.23 137.05,327.01 137.40,327.10 137.75,327.07 138.10,327.17 138.45,327.18 138.80,327.27 139.15,327.10 139.50,326.68 139.85,326.08 140.20,325.52 140.55,324.75 140.90,324.11 141.25,324.44 141.60,325.28 141.95,326.05 142.30,326.33 142.65,326.75 143.00,327.12 143.35,327.49 143.70,327.44 144.05,327.28 144.40,327.15 144.75,326.88 145.10,326.90 145.45,326.87 145.80,327.13 146.15,327.13 146.50,327.13 146.85,327.12 147.20,327.22 147.55,327.30 147.90,327.27 148.25,327.21 148.60,327.22 148.95,327.20 149.30,327.15 149.65,327.02 150.00,327.01 150.35,327.07 150.70,327.13 151.05,327.12 151.40,327.13 151.75,327.08 152.10,326.92 152.45,326.86 152.80,326.77 153.15,326.50 153.50,325.69 153.85,324.59 154.20,323.47 154.55,322.97 154.90,323.52 155.25,324.58 155.60,325.81 155.95,326.36 156.30,326.55 156.65,326.54 157.00,326.86 157.35,327.10 157.70,327.09 158.05,326.88 158.40,326.98 158.75,327.16 159.10,327.26 159.45,327.35 159.80,327.37 160.15,327.36 160.50,327.28 160.85,327.37 161.20,327.46 161.55,327.50 161.90,327.25 162.25,327.14 162.60,327.12 162.95,327.19 163.30,327.30 163.65,327.29 164.00,327.40 164.35,327.27 164.70,327.45 165.05,327.47 165.40,327.46 165.75,327.21 166.10,327.29 166.45,327.14 166.80,326.90 167.15,326.19 167.50,325.60 167.85,325.17 168.20,325.50 168.55,326.17 168.90,326.87 169.25,327.18 169.60,327.25 169.95,327.26 170.30,327.25 170.65,327.28 171.00,327.21 171.35,327.14 171.70,327.18 172.05,327.07 172.40,327.03 172.75,326.96 173.10,326.91 173.45,326.90 173.80,326.67 174.15,326.63 174.50,326.42 174.85,326.03 175.20,325.15 175.55,324.28 175.90,324.16 176.25,325.19 176.60,326.16 176.95,326.96 177.30,326.96 177.65,326.98 178.00,326.73 178.35,326.87 178.70,326.94 179.05,326.85 179.40,326.55 179.75,325.91 180.10,324.58 180.45,322.30 180.80,320.15 181.15,320.08 181.50,321.97 181.85,324.25 182.20,325.81 182.55,326.70 182.90,327.03 183.25,327.25 183.60,327.35 183.95,327.20 184.30,327.03 184.65,326.84 185.00,326.88 185.35,326.93 185.70,327.03 186.05,327.19 186.40,327.05 186.75,326.94 187.10,326.90 187.45,327.03 187.80,327.12 188.15,327.12 188.50,327.07 188.85,327.16 189.20,327.20 189.55,327.27 189.90,327.14 190.25,327.09 190.60,326.85 190.95,326.82 191.30,326.84 191.65,326.95 192.00,327.06 192.35,327.07 192.70,327.08 193.05,327.04 193.40,327.00 193.75,327.17 194.10,327.25 194.45,327.28 194.80,327.15 195.15,327.08 195.50,327.08 195.85,327.23 196.20,327.27 196.55,327.20 196.90,327.01 197.25,326.94 197.60,326.94 197.95,326.95 198.30,326.97 198.65,326.99 199.00,327.09 199.35,327.14 199.70,327.13 200.05,327.29 200.40,327.11 200.75,327.04 201.10,326.42 201.45,325.95 201.80,324.96 202.15,324.51 202.50,324.65 202.85,325.54 203.20,326.48 203.55,326.96 203.90,327.29 204.25,327.27 204.60,327.38 204.95,327.33 205.30,327.26 205.65,327.23 206.00,327.09 206.35,327.22 206.70,327.08 207.05,327.21 207.40,327.30 207.75,327.38 208.10,327.36 208.45,327.27 208.80,327.29 209.15,327.22 209.50,327.13 209.85,327.19 210.20,327.33 210.55,327.23 210.90,327.34 211.25,327.43 211.60,327.50 211.95,327.37 212.30,327.17 212.65,327.30 213.00,327.21 213.35,327.31 213.70,327.13 214.05,327.13 214.40,327.13 214.75,327.29 215.10,327.35 215.45,327.21 215.80,327.14 216.15,327.08 216.50,327.02 216.85,326.77 217.20,326.42 217.55,325.94 217.90,326.05 218.25,326.38 218.60,326.95 218.95,326.97 219.30,327.09 219.65,326.91 220.00,327.15 220.35,327.30 220.70,327.35 221.05,327.05 221.40,326.77 221.75,327.00 222.10,327.10 222.45,327.25 222.80,327.11 223.15,327.14 223.50,327.05 223.85,327.08 224.20,326.96 224.55,327.05 224.90,327.08 225.25,327.26 225.60,327.24 225.95,327.13 226.30,327.10 226.65,327.08 227.00,327.31 227.35,327.37 227.70,327.40 228.05,327.21 228.40,327.07 228.75,327.00 229.10,327.01 229.45,327.10 229.80,327.24 230.15,327.32 230.50,327.49 230.85,327.38 231.20,327.33 231.55,327.39 231.90,327.28 232.25,327.23 232.60,326.99 232.95,327.18 233.30,327.26 233.65,327.22 234.00,327.24 234.35,327.21 234.70,327.30 235.05,327.09 235.40,327.00 235.75,326.93 236.10,327.01 236.45,326.99 236.80,327.05 237.15,327.08 237.50,327.23 237.85,327.23 238.20,327.30 238.55,327.24 238.90,327.04 239.25,326.63 239.60,326.26 239.95,326.11 240.30,326.31 240.65,326.62 241.00,326.92 241.35,327.05 241.70,327.19 242.05,327.31 242.40,327.35 242.75,327.31 243.10,327.13 243.45,327.33 243.80,327.35 244.15,327.45 244.50,327.24 244.85,327.21 245.20,327.13 245.55,327.03 245.90,327.16 246.25,327.25 246.60,327.25 246.95,327.19 247.30,327.09 247.65,327.29 248.00,327.26 248.35,327.13 248.70,327.07 249.05,327.18 249.40,327.26 249.75,327.19 250.10,326.92 250.45,326.86 250.80,326.99 251.15,327.27 251.50,327.43 251.85,327.42 252.20,327.47 252.55,327.38 252.90,327.29 253.25,327.14 253.60,327.24 253.95,327.20 254.30,327.05 254.65,327.02 255.00,327.14 255.35,327.13 255.70,327.08 256.05,327.01 256.40,327.17 256.75,327.18 257.10,327.22 257.45,327.15 257.80,327.26 258.15,327.39 258.50,327.39 258.85,327.37 259.20,327.17 259.55,327.21 259.90,327.20 260.25,327.42 260.60,327.37 260.95,327.30 261.30,327.17 261.65,327.07 262.00,327.08 262.35,327.00 262.70,327.17 263.05,327.06 263.40,326.94 263.75,326.91 264.10,327.04 264.45,327.25" fill="none" stroke="#1068dc" stroke-width="1.2" stroke-linejoin="round"/>
<polyline points="19.80,362.90 20.15,362.97 20.50,363.04 20.85,362.87 21.20,362.80 21.55,362.76 21.90,362.70 22.25,362.60 22.60,362.45 22.95,362.35 23.30,362.45 23.65,362.59 24.00,362.86 24.35,362.88 24.70,362.86 25.05,362.77 25.40,362.72 25.75,362.51 26.10,362.55 26.45,362.51 26.80,362.71 27.15,362.58 27.50,362.90 27.85,362.99 28.20,363.06 28.55,362.67 28.90,362.65 29.25,362.52 29.60,362.74 29.95,362.51 30.30,362.59 30.65,362.57 31.00,362.63 31.35,362.65 31.70,362.57 32.05,362.75 32.40,362.69 32.75,362.74 33.10,362.85 33.45,362.76 33.80,362.61 34.15,362.45 34.50,362.53 34.85,362.48 35.20,362.58 35.55,362.73 35.90,362.97 36.25,362.94 36.60,362.92 36.95,362.73 37.30,362.39 37.65,362.37 38.00,362.35 38.35,362.58 38.70,362.57 39.05,362.56 39.40,362.52 39.75,362.65 40.10,362.85 40.45,362.72 40.80,362.53 41.15,362.46 41.50,362.67 41.85,362.76 42.20,362.76 42.55,362.68 42.90,362.69 43.25,362.56 43.60,362.69 43.95,362.64 44.30,362.73 44.65,362.56 45.00,362.55 45.35,362.46 45.70,362.28 46.05,362.30 46.40,362.58 46.75,362.79 47.10,362.76 47.45,362.61 47.80,362.53 48.15,362.57 48.50,362.65 48.85,362.74 49.20,362.79 49.55,362.61 49.90,362.63 50.25,362.47 50.60,362.52 50.95,362.52 51.30,362.61 51.65,362.74 52.00,362.78 52.35,362.65 52.70,362.69 53.05,362.47 53.40,362.58 53.75,362.48 54.10,362.62 54.45,362.68 54.80,362.65 55.15,362.56 55.50,362.59 55.85,362.58 56.20,362.58 56.55,362.51 56.90,362.51 57.25,362.63 57.60,362.57 57.95,362.59 58.30,362.54 58.65,362.75 59.00,362.70 59.35,362.84 59.70,362.68 60.05,362.82 60.40,362.92 60.75,362.89 61.10,362.79 61.45,362.48 61.80,362.45 62.15,362.39 62.50,362.48 62.85,362.64 63.20,362.78 63.55,362.72 63.90,362.64 64.25,362.42 64.60,362.52 64.95,362.48 65.30,362.52 65.65,362.39 66.00,362.47 66.35,362.58 66.70,362.71 67.05,362.62 67.40,362.62 67.75,362.54 68.10,362.43 68.45,362.40 68.80,362.41 69.15,362.49 69.50,362.58 69.85,362.79 70.20,362.99 70.55,362.92 70.90,362.60 71.25,362.44 71.60,362.37 71.95,362.49 72.30,362.61 72.65,362.65 73.00,362.47 73.35,362.41 73.70,362.23 74.05,362.05 74.40,361.12 74.75,360.59 75.10,360.16 75.45,360.85 75.80,361.48 76.15,361.92 76.50,362.12 76.85,362.00 77.20,362.44 77.55,362.61 77.90,362.68 78.25,362.36 78.60,362.13 78.95,362.24 79.30,362.33 79.65,362.53 80.00,362.47 80.35,362.38 80.70,362.52 81.05,362.62 81.40,362.71 81.75,362.51 82.10,362.58 82.45,362.72 82.80,362.63 83.15,362.64 83.50,362.50 83.85,362.67 84.20,362.40 84.55,362.38 84.90,362.38 85.25,362.32 85.60,362.25 85.95,361.85 86.30,361.25 86.65,360.58 87.00,360.19 87.35,360.65 87.70,361.40 88.05,362.11 88.40,362.60 88.75,362.63 89.10,362.62 89.45,362.56 89.80,362.47 90.15,362.36 90.50,362.51 90.85,362.54 91.20,362.60 91.55,362.55 91.90,362.57 92.25,362.49 92.60,362.22 92.95,362.24 93.30,362.04 93.65,361.99 94.00,361.44 94.35,360.49 94.70,357.88 95.05,354.08 95.40,350.58 95.75,350.46 96.10,353.51 96.45,357.38 96.80,359.79 97.15,361.31 97.50,361.57 97.85,361.44 98.20,360.39 98.55,357.68 98.90,353.23 99.25,347.92 99.60,345.17 99.95,348.08 100.30,353.54 100.65,358.31 101.00,360.59 101.35,361.53 101.70,361.84 102.05,362.27 102.40,362.28 102.75,362.26 103.10,362.04 103.45,362.17 103.80,361.90 104.15,361.56 104.50,360.75 104.85,360.35 105.20,360.50 105.55,361.16 105.90,361.86 106.25,362.14 106.60,362.36 106.95,362.35 107.30,362.33 107.65,362.38 108.00,362.46 108.35,362.45 108.70,362.42 109.05,362.20 109.40,361.84 109.75,361.10 110.10,360.39 110.45,360.20 110.80,360.83 111.15,361.57 111.50,362.13 111.85,362.15 112.20,362.16 112.55,362.15 112.90,361.95 113.25,361.44 113.60,360.92 113.95,360.63 114.30,360.86 114.65,361.11 115.00,361.60 115.35,362.24 115.70,362.57 116.05,362.77 116.40,362.64 116.75,362.60 117.10,362.59 117.45,362.54 117.80,362.56 118.15,362.62 118.50,362.55 118.85,362.51 119.20,362.35 119.55,362.55 119.90,362.58 120.25,362.81 120.60,362.57 120.95,362.52 121.30,362.11 121.65,362.15 122.00,362.25 122.35,362.56 122.70,362.56 123.05,362.50 123.40,362.57 123.75,362.62 124.10,362.68 124.45,362.60 124.80,362.56 125.15,362.66 125.50,362.59 125.85,362.75 126.20,362.61 126.55,362.65 126.90,362.69 127.25,362.74 127.60,362.55 127.95,362.41 128.30,362.35 128.65,362.50 129.00,362.55 129.35,362.43 129.70,362.61 130.05,362.52 130.40,362.79 130.75,362.59 131.10,362.64 131.45,362.50 131.80,362.51 132.15,362.59 132.50,362.72 132.85,362.92 133.20,363.05 133.55,362.82 133.90,362.71 134.25,362.58 134.60,362.69 134.95,362.65 135.30,362.61 135.65,362.51 136.00,362.40 136.35,362.49 136.70,362.59 137.05,362.80 137.40,362.67 137.75,362.62 138.10,362.50 138.45,362.55 138.80,362.70 139.15,362.64 139.50,362.70 139.85,362.65 140.20,362.61 140.55,362.52 140.90,362.47 141.25,362.65 141.60,362.78 141.95,362.86 142.30,362.72 142.65,362.67 143.00,362.62 143.35,362.61 143.70,362.61 144.05,362.53 144.40,362.55 144.75,362.39 145.10,362.33 145.45,362.39 145.80,362.34 146.15,362.40 146.50,362.34 146.85,362.53 147.20,362.52 147.55,362.62 147.90,362.50 148.25,362.49 148.60,362.34 148.95,362.37 149.30,362.37 149.65,362.31 150.00,362.28 150.35,362.27 150.70,362.49 151.05,362.45 151.40,362.54 151.75,362.34 152.10,362.48 152.45,362.37 152.80,362.22 153.15,361.88 153.50,361.37 153.85,360.66 154.20,359.77 154.55,359.34 154.90,359.65 155.25,360.44 155.60,361.23 155.95,361.92 156.30,362.23 156.65,362.44 157.00,362.47 157.35,362.53 157.70,362.47 158.05,362.36 158.40,362.62 158.75,362.68 159.10,362.63 159.45,362.28 159.80,362.24 160.15,362.56 160.50,362.70 160.85,362.67 161.20,362.67 161.55,362.48 161.90,362.67 162.25,362.77 162.60,362.95 162.95,362.94 163.30,362.74 163.65,362.47 164.00,362.41 164.35,362.29 164.70,362.31 165.05,362.36 165.40,362.36 165.75,362.65 166.10,362.61 166.45,362.61 166.80,362.35 167.15,362.27 167.50,362.25 167.85,362.36 168.20,362.33 168.55,362.40 168.90,362.65 169.25,362.74 169.60,362.76 169.95,362.72 170.30,362.75 170.65,362.71 171.00,362.55 171.35,362.39 171.70,362.50 172.05,362.55 172.40,362.78 172.75,362.61 173.10,362.56 173.45,362.49 173.80,362.70 174.15,362.74 174.50,362.64 174.85,362.55 175.20,362.43 175.55,362.59 175.90,362.41 176.25,362.38 176.60,362.25 176.95,362.24 177.30,362.31 177.65,361.96 178.00,361.43 178.35,360.59 178.70,360.55 179.05,361.00 179.40,361.61 179.75,362.17 180.10,362.25 180.45,362.41 180.80,362.18 181.15,362.31 181.50,362.42 181.85,362.55 182.20,362.50 182.55,362.53 182.90,362.55 183.25,362.71 183.60,362.82 183.95,362.71 184.30,362.65 184.65,362.45 185.00,362.40 185.35,362.42 185.70,362.57 186.05,362.73 186.40,362.74 186.75,362.65 187.10,362.72 187.45,362.84 187.80,362.65 188.15,362.40 188.50,362.38 188.85,362.63 189.20,362.82 189.55,362.81 189.90,362.63 190.25,362.45 190.60,362.41 190.95,362.40 191.30,362.52 191.65,362.67 192.00,362.62 192.35,362.66 192.70,362.62 193.05,362.91 193.40,362.81 193.75,362.57 194.10,362.45 194.45,362.37 194.80,362.48 195.15,362.44 195.50,362.53 195.85,362.59 196.20,362.62 196.55,362.59 196.90,362.50 197.25,362.47 197.60,362.50 197.95,362.46 198.30,362.56 198.65,362.54 199.00,362.67 199.35,362.64 199.70,362.75 200.05,362.63 200.40,362.33 200.75,362.20 201.10,361.63 201.45,360.92 201.80,359.92 202.15,359.53 202.50,359.70 202.85,360.29 203.20,361.02 203.55,361.74 203.90,362.09 204.25,362.18 204.60,362.28 204.95,362.32 205.30,362.46 205.65,362.50 206.00,362.55 206.35,362.68 206.70,362.81 207.05,362.73 207.40,362.56 207.75,362.56 208.10,362.63 208.45,362.43 208.80,362.20 209.15,362.21 209.50,362.35 209.85,362.47 210.20,362.59 210.55,362.71 210.90,362.50 211.25,362.38 211.60,362.42 211.95,362.55 212.30,362.51 212.65,362.39 213.00,362.65 213.35,362.62 213.70,362.61 214.05,362.37 214.40,362.42 214.75,362.45 215.10,362.43 215.45,362.39 215.80,362.37 216.15,362.37 216.50,362.45 216.85,362.50 217.20,362.60 217.55,362.70 217.90,362.72 218.25,362.56 218.60,362.53 218.95,362.46 219.30,362.48 219.65,362.48 220.00,362.48 220.35,362.55 220.70,362.59 221.05,362.49 221.40,362.50 221.75,362.38 222.10,362.45 222.45,362.40 222.80,362.55 223.15,362.65 223.50,362.75 223.85,362.56 224.20,362.53 224.55,362.63 224.90,362.86 225.25,362.90 225.60,362.76 225.95,362.57 226.30,362.55 226.65,362.40 227.00,362.47 227.35,362.30 227.70,362.35 228.05,362.23 228.40,362.40 228.75,362.44 229.10,362.61 229.45,362.63 229.80,362.70 230.15,362.61 230.50,362.58 230.85,362.43 231.20,362.44 231.55,362.47 231.90,362.57 232.25,362.62 232.60,362.58 232.95,362.81 233.30,362.63 233.65,362.52 234.00,362.44 234.35,362.49 234.70,362.60 235.05,362.61 235.40,362.56 235.75,362.54 236.10,362.47 236.45,362.75 236.80,362.71 237.15,362.70 237.50,362.55 237.85,362.65 238.20,362.55 238.55,362.63 238.90,362.66 239.25,362.79 239.60,362.70 239.95,362.57 240.30,362.51 240.65,362.65 241.00,362.76 241.35,362.65 241.70,362.56 242.05,362.51 242.40,362.51 242.75,362.71 243.10,362.70 243.45,362.74 243.80,362.51 244.15,362.42 244.50,362.41 244.85,362.37 245.20,362.41 245.55,362.41 245.90,362.16 246.25,362.23 246.60,362.25 246.95,362.48 247.30,362.39 247.65,362.20 248.00,362.23 248.35,362.34 248.70,362.56 249.05,362.61 249.40,362.56 249.75,362.66 250.10,362.80 250.45,362.72 250.80,362.75 251.15,362.67 251.50,362.66 251.85,362.49 252.20,362.47 252.55,362.79 252.90,362.79 253.25,362.85 253.60,362.61 253.95,362.62 254.30,362.65 254.65,362.65 255.00,362.70 255.35,362.65 255.70,362.76 256.05,362.78 256.40,362.76 256.75,362.92 257.10,362.84 257.45,362.87 257.80,362.58 258.15,362.61 258.50,362.47 258.85,362.36 259.20,362.19 259.55,362.31 259.90,362.23 260.25,362.35 260.60,362.22 260.95,362.56 261.30,362.63 261.65,362.74 262.00,362.56 262.35,362.43 262.70,362.26 263.05,362.35 263.40,362.52 263.75,362.73 264.10,362.66 264.45,362.53" fill="none" stroke="#ff2030" stroke-width="1.2" stroke-linejoin="round"/>
<polyline points="19.80,397.93 20.15,398.16 20.50,398.40 20.85,398.50 21.20,398.38 21.55,398.25 21.90,398.11 22.25,397.98 22.60,397.90 22.95,398.02 23.30,398.17 23.65,398.19 24.00,397.99 24.35,397.95 24.70,397.93 25.05,398.04 25.40,398.09 25.75,397.92 26.10,397.91 26.45,397.72 26.80,397.85 27.15,397.74 27.50,397.99 27.85,398.15 28.20,398.33 28.55,398.14 28.90,397.93 29.25,397.84 29.60,397.94 29.95,398.07 30.30,398.18 30.65,398.12 31.00,398.31 31.35,398.31 31.70,398.54 32.05,398.39 32.40,398.30 32.75,398.02 33.10,398.07 33.45,398.20 33.80,398.30 34.15,398.26 34.50,398.13 34.85,398.07 35.20,398.00 35.55,397.84 35.90,397.78 36.25,397.81 36.60,398.01 36.95,398.22 37.30,398.28 37.65,398.31 38.00,398.21 38.35,397.92 38.70,397.88 39.05,397.79 39.40,398.06 39.75,398.03 40.10,398.08 40.45,397.98 40.80,397.98 41.15,397.82 41.50,397.71 41.85,397.86 42.20,398.10 42.55,398.22 42.90,398.06 43.25,397.98 43.60,398.35 43.95,398.43 44.30,398.47 44.65,398.08 45.00,397.79 45.35,397.81 45.70,398.01 46.05,398.34 46.40,398.35 46.75,398.15 47.10,397.94 47.45,397.92 47.80,397.94 48.15,397.95 48.50,398.10 48.85,398.05 49.20,398.11 49.55,397.71 49.90,397.97 50.25,398.01 50.60,398.24 50.95,398.10 51.30,398.03 51.65,397.98 52.00,397.98 52.35,397.98 52.70,398.07 53.05,398.16 53.40,398.32 53.75,398.43 54.10,398.42 54.45,398.51 54.80,398.40 55.15,398.34 55.50,398.06 55.85,398.01 56.20,397.89 56.55,398.00 56.90,397.91 57.25,398.01 57.60,398.28 57.95,398.30 58.30,398.33 58.65,398.13 59.00,398.14 59.35,398.05 59.70,397.94 60.05,398.05 60.40,398.02 60.75,398.33 61.10,398.37 61.45,398.55 61.80,398.51 62.15,398.56 62.50,398.43 62.85,398.25 63.20,398.12 63.55,398.16 63.90,398.22 64.25,398.01 64.60,397.82 64.95,397.69 65.30,397.93 65.65,398.05 66.00,398.06 66.35,398.13 66.70,398.24 67.05,398.25 67.40,398.11 67.75,397.89 68.10,397.95 68.45,397.99 68.80,398.04 69.15,398.04 69.50,397.99 69.85,398.05 70.20,397.83 70.55,397.95 70.90,397.91 71.25,398.09 71.60,398.02 71.95,398.03 72.30,397.97 72.65,397.88 73.00,397.79 73.35,397.53 73.70,396.97 74.05,396.42 74.40,396.09 74.75,396.36 75.10,396.97 75.45,397.44 75.80,397.89 76.15,397.73 76.50,397.85 76.85,397.60 77.20,397.79 77.55,398.08 77.90,398.38 78.25,398.53 78.60,398.14 78.95,397.97 79.30,397.85 79.65,397.97 80.00,398.07 80.35,398.01 80.70,397.88 81.05,397.85 81.40,398.08 81.75,398.17 82.10,398.18 82.45,397.99 82.80,397.89 83.15,397.79 83.50,397.84 83.85,398.07 84.20,398.25 84.55,398.10 84.90,398.12 85.25,398.10 85.60,398.42 85.95,398.26 86.30,398.09 86.65,397.93 87.00,397.92 87.35,397.95 87.70,397.85 88.05,397.82 88.40,397.84 88.75,397.97 89.10,398.04 89.45,398.08 89.80,397.97 90.15,398.03 90.50,398.11 90.85,398.02 91.20,397.95 91.55,398.07 91.90,398.21 92.25,398.08 92.60,398.05 92.95,398.24 93.30,398.31 93.65,397.88 94.00,397.37 94.35,397.26 94.70,396.87 95.05,396.16 95.40,395.13 95.75,395.05 96.10,395.88 96.45,396.70 96.80,397.27 97.15,397.27 97.50,397.11 97.85,396.71 98.20,394.85 98.55,390.50 98.90,382.63 99.25,373.18 99.60,368.49 99.95,373.11 100.30,382.78 100.65,390.51 101.00,394.90 101.35,396.47 101.70,397.10 102.05,397.08 102.40,397.39 102.75,397.56 103.10,397.87 103.45,397.85 103.80,397.82 104.15,397.85 104.50,398.06 104.85,398.06 105.20,398.04 105.55,397.93 105.90,398.03 106.25,398.03 106.60,398.13 106.95,398.28 107.30,398.30 107.65,398.31 108.00,397.95 108.35,398.00 108.70,397.39 109.05,397.26 109.40,396.93 109.75,397.22 110.10,397.57 110.45,397.75 110.80,397.85 111.15,397.74 111.50,398.01 111.85,398.03 112.20,398.19 112.55,398.02 112.90,398.19 113.25,398.05 113.60,397.99 113.95,397.83 114.30,397.95 114.65,397.96 115.00,398.08 115.35,398.11 115.70,398.30 116.05,398.31 116.40,398.39 116.75,398.26 117.10,398.15 117.45,397.94 117.80,397.91 118.15,397.83 118.50,397.93 118.85,398.01 119.20,397.94 119.55,397.89 119.90,397.80 120.25,397.92 120.60,397.91 120.95,398.10 121.30,398.21 121.65,398.03 122.00,397.94 122.35,397.84 122.70,398.21 123.05,398.13 123.40,398.21 123.75,398.02 124.10,397.99 124.45,397.96 124.80,397.96 125.15,398.27 125.50,398.32 125.85,398.39 126.20,398.18 126.55,398.18 126.90,398.17 127.25,398.30 127.60,397.98 127.95,397.89 128.30,397.66 128.65,398.04 129.00,398.03 129.35,398.21 129.70,398.23 130.05,398.26 130.40,398.22 130.75,398.06 131.10,398.20 131.45,398.20 131.80,398.36 132.15,398.36 132.50,398.21 132.85,398.24 133.20,398.16 133.55,398.37 133.90,398.23 134.25,398.32 134.60,398.10 134.95,398.22 135.30,398.03 135.65,398.13 136.00,398.05 136.35,398.00 136.70,398.05 137.05,398.01 137.40,398.24 137.75,398.19 138.10,398.09 138.45,397.90 138.80,397.83 139.15,397.94 139.50,398.03 139.85,398.17 140.20,398.31 140.55,398.30 140.90,398.19 141.25,398.08 141.60,398.15 141.95,397.98 142.30,397.88 142.65,397.84 143.00,398.11 143.35,398.13 143.70,398.02 144.05,398.16 144.40,397.90 144.75,398.14 145.10,397.87 145.45,398.14 145.80,397.99 146.15,398.09 146.50,398.03 146.85,397.89 147.20,397.88 147.55,398.10 147.90,398.21 148.25,398.40 148.60,398.15 148.95,398.25 149.30,398.07 149.65,398.33 150.00,398.13 150.35,398.14 150.70,397.99 151.05,397.87 151.40,397.75 151.75,397.60 152.10,397.76 152.45,397.80 152.80,397.78 153.15,397.68 153.50,397.13 153.85,396.30 154.20,395.34 154.55,395.05 154.90,395.48 155.25,396.37 155.60,397.12 155.95,397.78 156.30,398.01 156.65,398.09 157.00,397.93 157.35,397.96 157.70,397.95 158.05,398.10 158.40,398.12 158.75,398.08 159.10,398.03 159.45,397.92 159.80,397.88 160.15,397.74 160.50,397.71 160.85,397.87 161.20,397.83 161.55,397.98 161.90,398.00 162.25,398.32 162.60,398.24 162.95,398.14 163.30,398.15 163.65,398.26 164.00,398.46 164.35,398.32 164.70,398.20 165.05,398.15 165.40,398.15 165.75,398.18 166.10,398.20 166.45,398.32 166.80,398.29 167.15,398.22 167.50,398.14 167.85,398.28 168.20,398.26 168.55,398.18 168.90,398.25 169.25,398.21 169.60,398.30 169.95,398.07 170.30,398.07 170.65,398.03 171.00,398.15 171.35,398.20 171.70,398.35 172.05,398.37 172.40,398.27 172.75,398.09 173.10,397.93 173.45,398.08 173.80,398.07 174.15,398.30 174.50,398.22 174.85,398.30 175.20,398.16 175.55,398.32 175.90,398.34 176.25,398.29 176.60,398.00 176.95,397.83 177.30,397.80 177.65,398.03 178.00,398.25 178.35,398.25 178.70,397.87 179.05,397.92 179.40,398.03 179.75,398.07 180.10,397.94 180.45,397.80 180.80,398.10 181.15,398.18 181.50,398.22 181.85,397.90 182.20,397.81 182.55,398.13 182.90,398.40 183.25,398.37 183.60,398.21 183.95,398.11 184.30,398.33 184.65,398.06 185.00,398.07 185.35,398.06 185.70,398.35 186.05,398.45 186.40,398.15 186.75,398.04 187.10,398.05 187.45,398.15 187.80,398.14 188.15,398.17 188.50,398.17 188.85,398.22 189.20,398.10 189.55,398.03 189.90,397.82 190.25,397.77 190.60,397.80 190.95,398.05 191.30,398.12 191.65,398.02 192.00,398.07 192.35,398.30 192.70,398.44 193.05,398.35 193.40,398.09 193.75,398.22 194.10,398.17 194.45,398.22 194.80,398.14 195.15,398.07 195.50,397.98 195.85,397.90 196.20,397.89 196.55,397.88 196.90,398.21 197.25,398.35 197.60,398.57 197.95,398.16 198.30,398.04 198.65,397.93 199.00,398.19 199.35,398.23 199.70,398.03 200.05,397.63 200.40,397.35 200.75,396.71 201.10,396.01 201.45,394.75 201.80,393.65 202.15,392.92 202.50,393.18 202.85,394.22 203.20,395.56 203.55,396.61 203.90,397.26 204.25,397.64 204.60,397.92 204.95,398.10 205.30,397.90 205.65,397.97 206.00,398.01 206.35,398.07 206.70,397.92 207.05,397.96 207.40,398.19 207.75,398.22 208.10,398.02 208.45,398.03 208.80,398.03 209.15,398.23 209.50,398.11 209.85,398.15 210.20,398.03 210.55,398.18 210.90,398.16 211.25,398.21 211.60,398.00 211.95,398.23 212.30,398.24 212.65,398.19 213.00,397.98 213.35,397.80 213.70,397.89 214.05,397.78 214.40,398.07 214.75,398.24 215.10,398.60 215.45,398.45 215.80,398.22 216.15,397.78 216.50,397.84 216.85,397.85 217.20,398.19 217.55,398.37 217.90,398.31 218.25,398.16 218.60,398.13 218.95,398.12 219.30,398.02 219.65,397.93 220.00,398.12 220.35,398.06 220.70,398.02 221.05,397.95 221.40,398.13 221.75,398.12 222.10,398.33 222.45,398.42 222.80,398.29 223.15,398.26 223.50,398.24 223.85,398.38 224.20,398.17 224.55,398.01 224.90,397.96 225.25,398.18 225.60,398.31 225.95,398.33 226.30,398.21 226.65,398.19 227.00,398.15 227.35,398.12 227.70,397.90 228.05,397.92 228.40,398.01 228.75,398.22 229.10,398.37 229.45,398.44 229.80,398.39 230.15,398.11 230.50,397.95 230.85,397.85 231.20,398.06 231.55,398.04 231.90,398.25 232.25,398.14 232.60,398.07 232.95,398.16 233.30,398.17 233.65,398.25 234.00,398.11 234.35,398.08 234.70,398.04 235.05,397.89 235.40,397.93 235.75,398.00 236.10,398.04 236.45,397.86 236.80,397.78 237.15,397.93 237.50,398.17 237.85,398.26 238.20,398.11 238.55,398.08 238.90,398.03 239.25,398.20 239.60,398.21 239.95,398.13 240.30,398.07 240.65,398.04 241.00,398.24 241.35,398.40 241.70,398.24 242.05,398.08 242.40,397.83 242.75,397.93 243.10,397.95 243.45,398.17 243.80,398.28 244.15,398.30 244.50,398.19 244.85,398.14 245.20,398.08 245.55,398.00 245.90,397.94 246.25,397.89 246.60,397.40 246.95,396.88 247.30,396.56 247.65,396.94 248.00,397.37 248.35,397.70 248.70,397.72 249.05,397.74 249.40,397.74 249.75,397.84 250.10,397.98 250.45,398.01 250.80,398.04 251.15,397.93 251.50,397.98 251.85,397.88 252.20,398.11 252.55,397.97 252.90,398.06 253.25,397.90 253.60,398.03 253.95,398.13 254.30,397.93 254.65,397.93 255.00,397.77 255.35,398.11 255.70,397.91 256.05,398.02 256.40,397.95 256.75,398.14 257.10,398.16 257.45,398.11 257.80,398.16 258.15,398.24 258.50,398.25 258.85,398.32 259.20,398.22 259.55,398.31 259.90,398.07 260.25,398.22 260.60,398.18 260.95,398.37 261.30,398.39 261.65,398.26 262.00,398.09 262.35,397.66 262.70,397.85 263.05,398.00 263.40,398.47 263.75,398.37 264.10,398.36 264.45,398.20" fill="none" stroke="#4a4a4a" stroke-width="1.2" stroke-linejoin="round"/>
<rect x="19.5" y="236.0" width="245.39999999999998" height="165.60000000000002" fill="none" stroke="#6e6e6e" stroke-width="1.3"/>
<line x1="33.10" y1="401.6" x2="33.10" y2="403.8" stroke="#6e6e6e" stroke-width="1.0"/>
<line x1="46.74" y1="401.6" x2="46.74" y2="402.90000000000003" stroke="#6e6e6e" stroke-width="1.0"/>
<line x1="60.38" y1="401.6" x2="60.38" y2="403.8" stroke="#6e6e6e" stroke-width="1.0"/>
<line x1="74.01" y1="401.6" x2="74.01" y2="402.90000000000003" stroke="#6e6e6e" stroke-width="1.0"/>
<line x1="87.65" y1="401.6" x2="87.65" y2="403.8" stroke="#6e6e6e" stroke-width="1.0"/>
<line x1="101.29" y1="401.6" x2="101.29" y2="402.90000000000003" stroke="#6e6e6e" stroke-width="1.0"/>
<line x1="114.93" y1="401.6" x2="114.93" y2="403.8" stroke="#6e6e6e" stroke-width="1.0"/>
<line x1="128.56" y1="401.6" x2="128.56" y2="402.90000000000003" stroke="#6e6e6e" stroke-width="1.0"/>
<line x1="142.20" y1="401.6" x2="142.20" y2="403.8" stroke="#6e6e6e" stroke-width="1.0"/>
<line x1="155.84" y1="401.6" x2="155.84" y2="402.90000000000003" stroke="#6e6e6e" stroke-width="1.0"/>
<line x1="169.47" y1="401.6" x2="169.47" y2="403.8" stroke="#6e6e6e" stroke-width="1.0"/>
<line x1="183.11" y1="401.6" x2="183.11" y2="402.90000000000003" stroke="#6e6e6e" stroke-width="1.0"/>
<line x1="196.75" y1="401.6" x2="196.75" y2="403.8" stroke="#6e6e6e" stroke-width="1.0"/>
<line x1="210.39" y1="401.6" x2="210.39" y2="402.90000000000003" stroke="#6e6e6e" stroke-width="1.0"/>
<line x1="224.03" y1="401.6" x2="224.03" y2="403.8" stroke="#6e6e6e" stroke-width="1.0"/>
<line x1="237.66" y1="401.6" x2="237.66" y2="402.90000000000003" stroke="#6e6e6e" stroke-width="1.0"/>
<line x1="251.30" y1="401.6" x2="251.30" y2="403.8" stroke="#6e6e6e" stroke-width="1.0"/>
<circle cx="64.1" cy="323.1" r="2.5" fill="#000"/>
<polygon points="63.80,321.85 69.60,321.85 66.70,316.95" fill="#000"/>
<polygon points="72.10,315.85 77.90,315.85 75.00,310.95" fill="#000"/>
<circle cx="75.0" cy="317.8" r="2.5" fill="#000"/>
<polygon points="84.10,319.45 89.90,319.45 87.00,314.55" fill="#000"/>
<polygon points="91.50,269.15 97.30,269.15 94.40,264.25" fill="#000"/>
<rect x="97.60" y="301.70" width="4.0" height="4.0" fill="#fff" stroke="#6a6a6a" stroke-width="0.8"/>
<polygon points="101.90,323.35 107.70,323.35 104.80,318.45" fill="#000"/>
<circle cx="110.2" cy="320.0" r="2.5" fill="#000"/>
<polygon points="138.10,323.35 143.90,323.35 141.00,318.45" fill="#000"/>
<polygon points="151.60,319.65 157.40,319.65 154.50,314.75" fill="#000"/>
<rect x="152.50" y="319.40" width="4.0" height="4.0" fill="#fff" stroke="#6a6a6a" stroke-width="0.8"/>
<polygon points="164.90,324.75 170.70,324.75 167.80,319.85" fill="#000"/>
<polygon points="172.80,322.75 178.60,322.75 175.70,317.85" fill="#000"/>
<polygon points="178.10,317.15 183.90,317.15 181.00,312.25" fill="#000"/>
<rect x="200.20" y="320.30" width="4.0" height="4.0" fill="#fff" stroke="#6a6a6a" stroke-width="0.8"/>
<polygon points="214.80,324.75 220.60,324.75 217.70,319.85" fill="#000"/>
<polygon points="72.10,356.35 77.90,356.35 75.00,351.45" fill="#000"/>
<circle cx="75.0" cy="358.3" r="2.5" fill="#000"/>
<polygon points="84.10,359.85 89.90,359.85 87.00,354.95" fill="#000"/>
<polygon points="92.70,347.85 98.50,347.85 95.60,342.95" fill="#000"/>
<rect x="97.60" y="339.00" width="4.0" height="4.0" fill="#fff" stroke="#6a6a6a" stroke-width="0.8"/>
<polygon points="102.10,360.05 107.90,360.05 105.00,355.15" fill="#000"/>
<circle cx="110.4" cy="358.4" r="2.5" fill="#000"/>
<polygon points="151.60,355.75 157.40,355.75 154.50,350.85" fill="#000"/>
<rect x="152.50" y="355.20" width="4.0" height="4.0" fill="#fff" stroke="#6a6a6a" stroke-width="0.8"/>
<polygon points="175.60,359.65 181.40,359.65 178.50,354.75" fill="#000"/>
<rect x="200.20" y="355.20" width="4.0" height="4.0" fill="#fff" stroke="#6a6a6a" stroke-width="0.8"/>
<polygon points="71.50,391.35 77.30,391.35 74.40,386.45" fill="#000"/>
<circle cx="74.4" cy="392.6" r="2.5" fill="#000"/>
<polygon points="92.70,392.85 98.50,392.85 95.60,387.95" fill="#000"/>
<rect x="97.60" y="363.60" width="4.0" height="4.0" fill="#fff" stroke="#6a6a6a" stroke-width="0.8"/>
<circle cx="109.4" cy="393.6" r="2.5" fill="#000"/>
<polygon points="151.60,390.95 157.40,390.95 154.50,386.05" fill="#000"/>
<rect x="152.50" y="390.70" width="4.0" height="4.0" fill="#fff" stroke="#6a6a6a" stroke-width="0.8"/>
<rect x="200.20" y="389.00" width="4.0" height="4.0" fill="#fff" stroke="#6a6a6a" stroke-width="0.8"/>
<rect x="245.30" y="391.80" width="4.0" height="4.0" fill="#fff" stroke="#6a6a6a" stroke-width="0.8"/>
<g filter="url(#gs)">
<text class="n" x="18.7" y="14.4" font-size="10.2" textLength="68.4" lengthAdjust="spacingAndGlyphs" fill="#1a1a1a">(a) Laser power</text>
<text class="n" x="52.0" y="30.000000000000004" font-size="7.6" textLength="13.1" lengthAdjust="spacingAndGlyphs" fill="#111">WC</text>
<text class="n" x="93.4" y="30.000000000000004" font-size="7.6" textLength="33.6" lengthAdjust="spacingAndGlyphs" fill="#111">α (Fe, Co)</text>
<text class="n" x="155.50" y="30.00" font-size="7.6" fill="#111" textLength="69.4" lengthAdjust="spacingAndGlyphs">M<tspan dy="2.28" font-size="5.17">3</tspan><tspan dy="-2.28">W</tspan><tspan dy="2.28" font-size="5.17">3</tspan><tspan dy="-2.28">C (M = Fe, Co)</tspan></text>
<text class="n" x="0" y="0" font-size="8.4" fill="#1a1a1a" text-anchor="middle" textLength="59.5" lengthAdjust="spacingAndGlyphs" transform="translate(12.9,102.40) rotate(-90)">Intensity (a.u.)</text>
<text class="n" x="33.10" y="196.00" font-size="7.6" text-anchor="middle" textLength="6.1" lengthAdjust="spacingAndGlyphs" fill="#222">20</text>
<text class="n" x="60.38" y="196.00" font-size="7.6" text-anchor="middle" textLength="6.1" lengthAdjust="spacingAndGlyphs" fill="#222">30</text>
<text class="n" x="87.65" y="196.00" font-size="7.6" text-anchor="middle" textLength="6.1" lengthAdjust="spacingAndGlyphs" fill="#222">40</text>
<text class="n" x="114.93" y="196.00" font-size="7.6" text-anchor="middle" textLength="6.1" lengthAdjust="spacingAndGlyphs" fill="#222">50</text>
<text class="n" x="142.20" y="196.00" font-size="7.6" text-anchor="middle" textLength="6.1" lengthAdjust="spacingAndGlyphs" fill="#222">60</text>
<text class="n" x="169.47" y="196.00" font-size="7.6" text-anchor="middle" textLength="6.1" lengthAdjust="spacingAndGlyphs" fill="#222">70</text>
<text class="n" x="196.75" y="196.00" font-size="7.6" text-anchor="middle" textLength="6.1" lengthAdjust="spacingAndGlyphs" fill="#222">80</text>
<text class="n" x="224.03" y="196.00" font-size="7.6" text-anchor="middle" textLength="6.1" lengthAdjust="spacingAndGlyphs" fill="#222">90</text>
<text class="n" x="251.30" y="196.00" font-size="7.6" text-anchor="middle" textLength="9.3" lengthAdjust="spacingAndGlyphs" fill="#222">100</text>
<text class="n" x="142.40" y="209.70" font-size="10.0" text-anchor="middle" textLength="44.4" lengthAdjust="spacingAndGlyphs" fill="#1a1a1a">2θ (degree)</text>
<text class="n" x="100.2" y="47.0" font-size="6.2" text-anchor="middle" textLength="18.8" lengthAdjust="spacingAndGlyphs" fill="#222">α (110)</text>
<text class="n" x="154.5" y="71.5" font-size="6.2" text-anchor="middle" textLength="18.8" lengthAdjust="spacingAndGlyphs" fill="#222">α (200)</text>
<text class="n" x="202.4" y="74.7" font-size="6.2" text-anchor="middle" textLength="18.8" lengthAdjust="spacingAndGlyphs" fill="#222">α (211)</text>
<text class="n" x="247.3" y="78.3" font-size="6.2" text-anchor="middle" textLength="18.8" lengthAdjust="spacingAndGlyphs" fill="#222">α (220)</text>
<text class="b" x="191.4" y="63.0" font-size="9.8" font-weight="bold" fill="#111" textLength="65.5" lengthAdjust="spacingAndGlyphs"><tspan font-style="italic">P</tspan> = 5 kW (No.1)</text>
<text class="b" x="192.4" y="108.4" font-size="9.8" font-weight="bold" fill="#111" textLength="63.6" lengthAdjust="spacingAndGlyphs"><tspan font-style="italic">P</tspan> = 3 kW (No.3)</text>
<text class="b" x="192.3" y="156.4" font-size="9.8" font-weight="bold" fill="#111" textLength="64.0" lengthAdjust="spacingAndGlyphs"><tspan font-style="italic">P</tspan> = 2 kW (No.4)</text>
<text class="n" x="76.0" y="95.5" font-size="7.3" fill="#111" textLength="35.1" lengthAdjust="spacingAndGlyphs">M<tspan dy="2.19" font-size="4.96">3</tspan><tspan dy="-2.19">W</tspan><tspan dy="2.19" font-size="4.96">3</tspan><tspan dy="-2.19">C (511)</tspan></text>
<text class="n" x="22.7" y="111.7" font-size="7.3" fill="#111" textLength="36.1" lengthAdjust="spacingAndGlyphs">M<tspan dy="2.19" font-size="4.96">3</tspan><tspan dy="-2.19">W</tspan><tspan dy="2.19" font-size="4.96">3</tspan><tspan dy="-2.19">C (331)</tspan></text>
<text class="n" x="27.5" y="123.8" font-size="7.3" fill="#111" textLength="35.3" lengthAdjust="spacingAndGlyphs">M<tspan dy="2.19" font-size="4.96">3</tspan><tspan dy="-2.19">W</tspan><tspan dy="2.19" font-size="4.96">3</tspan><tspan dy="-2.19">C (400)</tspan></text>
<text class="n" x="114.4" y="105.5" font-size="7.3" fill="#111" textLength="35.6" lengthAdjust="spacingAndGlyphs">M<tspan dy="2.19" font-size="4.96">3</tspan><tspan dy="-2.19">W</tspan><tspan dy="2.19" font-size="4.96">3</tspan><tspan dy="-2.19">C (422)</tspan></text>
<text class="n" x="136.9" y="116.5" font-size="7.3" fill="#111" textLength="35.9" lengthAdjust="spacingAndGlyphs">M<tspan dy="2.19" font-size="4.96">3</tspan><tspan dy="-2.19">W</tspan><tspan dy="2.19" font-size="4.96">3</tspan><tspan dy="-2.19">C (731)</tspan></text>
<text class="n" x="208.1" y="122.0" font-size="7.3" fill="#111" textLength="35.6" lengthAdjust="spacingAndGlyphs">M<tspan dy="2.19" font-size="4.96">3</tspan><tspan dy="-2.19">W</tspan><tspan dy="2.19" font-size="4.96">3</tspan><tspan dy="-2.19">C (933)</tspan></text>
<text class="n" x="35.0" y="162.2" font-size="7.3" textLength="25.5" lengthAdjust="spacingAndGlyphs" fill="#111">WC (001)</text>
<text class="n" x="46.8" y="144.0" font-size="7.3" textLength="25.2" lengthAdjust="spacingAndGlyphs" fill="#111">WC (100)</text>
<text class="n" x="111.9" y="154.3" font-size="7.3" textLength="25.7" lengthAdjust="spacingAndGlyphs" fill="#111">WC (101)</text>
<text class="n" x="143.4" y="158.3" font-size="7.3" textLength="25.4" lengthAdjust="spacingAndGlyphs" fill="#111">WC (111)</text>
<text class="n" x="163.3" y="145.0" font-size="7.3" textLength="25.5" lengthAdjust="spacingAndGlyphs" fill="#111">WC (102)</text>
<text class="n" x="300.2" y="14.4" font-size="10.2" textLength="81.9" lengthAdjust="spacingAndGlyphs" fill="#1a1a1a">(b) Cladding speed</text>
<text class="n" x="333.5" y="30.000000000000004" font-size="7.6" textLength="13.1" lengthAdjust="spacingAndGlyphs" fill="#111">WC</text>
<text class="n" x="374.9" y="30.000000000000004" font-size="7.6" textLength="33.6" lengthAdjust="spacingAndGlyphs" fill="#111">α (Fe, Co)</text>
<text class="n" x="437.00" y="30.00" font-size="7.6" fill="#111" textLength="69.4" lengthAdjust="spacingAndGlyphs">M<tspan dy="2.28" font-size="5.17">3</tspan><tspan dy="-2.28">W</tspan><tspan dy="2.28" font-size="5.17">3</tspan><tspan dy="-2.28">C (M = Fe, Co)</tspan></text>
<text class="n" x="0" y="0" font-size="8.4" fill="#1a1a1a" text-anchor="middle" textLength="59.5" lengthAdjust="spacingAndGlyphs" transform="translate(294.4,102.40) rotate(-90)">Intensity (a.u.)</text>
<text class="n" x="314.60" y="196.00" font-size="7.6" text-anchor="middle" textLength="6.1" lengthAdjust="spacingAndGlyphs" fill="#222">20</text>
<text class="n" x="341.80" y="196.00" font-size="7.6" text-anchor="middle" textLength="6.1" lengthAdjust="spacingAndGlyphs" fill="#222">30</text>
<text class="n" x="369.00" y="196.00" font-size="7.6" text-anchor="middle" textLength="6.1" lengthAdjust="spacingAndGlyphs" fill="#222">40</text>
<text class="n" x="396.20" y="196.00" font-size="7.6" text-anchor="middle" textLength="6.1" lengthAdjust="spacingAndGlyphs" fill="#222">50</text>
<text class="n" x="423.40" y="196.00" font-size="7.6" text-anchor="middle" textLength="6.1" lengthAdjust="spacingAndGlyphs" fill="#222">60</text>
<text class="n" x="450.60" y="196.00" font-size="7.6" text-anchor="middle" textLength="6.1" lengthAdjust="spacingAndGlyphs" fill="#222">70</text>
<text class="n" x="477.80" y="196.00" font-size="7.6" text-anchor="middle" textLength="6.1" lengthAdjust="spacingAndGlyphs" fill="#222">80</text>
<text class="n" x="505.00" y="196.00" font-size="7.6" text-anchor="middle" textLength="6.1" lengthAdjust="spacingAndGlyphs" fill="#222">90</text>
<text class="n" x="532.20" y="196.00" font-size="7.6" text-anchor="middle" textLength="9.3" lengthAdjust="spacingAndGlyphs" fill="#222">100</text>
<text class="n" x="423.90" y="209.70" font-size="10.0" text-anchor="middle" textLength="44.4" lengthAdjust="spacingAndGlyphs" fill="#1a1a1a">2θ (degree)</text>
<text class="b" x="464.0" y="67.3" font-size="9.8" font-weight="bold" fill="#111" textLength="75.4" lengthAdjust="spacingAndGlyphs"><tspan font-style="italic">S</tspan> = 30 mm/s (No.7)</text>
<text class="b" x="464.0" y="114.8" font-size="9.8" font-weight="bold" fill="#111" textLength="75.4" lengthAdjust="spacingAndGlyphs"><tspan font-style="italic">S</tspan> = 20 mm/s (No.6)</text>
<text class="b" x="464.6" y="161.3" font-size="9.8" font-weight="bold" fill="#111" textLength="71.3" lengthAdjust="spacingAndGlyphs"><tspan font-style="italic">S</tspan> = 3 mm/s (No.5)</text>
<text class="n" x="18.7" y="229.9" font-size="10.2" textLength="101.5" lengthAdjust="spacingAndGlyphs" fill="#1a1a1a">(c) Powder feeding rate</text>
<text class="n" x="52.0" y="246.4" font-size="7.6" textLength="13.1" lengthAdjust="spacingAndGlyphs" fill="#111">WC</text>
<text class="n" x="93.4" y="246.4" font-size="7.6" textLength="33.6" lengthAdjust="spacingAndGlyphs" fill="#111">α (Fe, Co)</text>
<text class="n" x="155.50" y="246.40" font-size="7.6" fill="#111" textLength="69.4" lengthAdjust="spacingAndGlyphs">M<tspan dy="2.28" font-size="5.17">3</tspan><tspan dy="-2.28">W</tspan><tspan dy="2.28" font-size="5.17">3</tspan><tspan dy="-2.28">C (M = Fe, Co)</tspan></text>
<text class="n" x="0" y="0" font-size="8.4" fill="#1a1a1a" text-anchor="middle" textLength="59.5" lengthAdjust="spacingAndGlyphs" transform="translate(12.3,318.80) rotate(-90)">Intensity (a.u.)</text>
<text class="n" x="33.10" y="412.40" font-size="7.6" text-anchor="middle" textLength="6.1" lengthAdjust="spacingAndGlyphs" fill="#222">20</text>
<text class="n" x="60.38" y="412.40" font-size="7.6" text-anchor="middle" textLength="6.1" lengthAdjust="spacingAndGlyphs" fill="#222">30</text>
<text class="n" x="87.65" y="412.40" font-size="7.6" text-anchor="middle" textLength="6.1" lengthAdjust="spacingAndGlyphs" fill="#222">40</text>
<text class="n" x="114.93" y="412.40" font-size="7.6" text-anchor="middle" textLength="6.1" lengthAdjust="spacingAndGlyphs" fill="#222">50</text>
<text class="n" x="142.20" y="412.40" font-size="7.6" text-anchor="middle" textLength="6.1" lengthAdjust="spacingAndGlyphs" fill="#222">60</text>
<text class="n" x="169.47" y="412.40" font-size="7.6" text-anchor="middle" textLength="6.1" lengthAdjust="spacingAndGlyphs" fill="#222">70</text>
<text class="n" x="196.75" y="412.40" font-size="7.6" text-anchor="middle" textLength="6.1" lengthAdjust="spacingAndGlyphs" fill="#222">80</text>
<text class="n" x="224.03" y="412.40" font-size="7.6" text-anchor="middle" textLength="6.1" lengthAdjust="spacingAndGlyphs" fill="#222">90</text>
<text class="n" x="251.30" y="412.40" font-size="7.6" text-anchor="middle" textLength="9.3" lengthAdjust="spacingAndGlyphs" fill="#222">100</text>
<text class="n" x="142.40" y="426.10" font-size="10.0" text-anchor="middle" textLength="44.4" lengthAdjust="spacingAndGlyphs" fill="#1a1a1a">2θ (degree)</text>
<text class="b" x="179.0" y="304.2" font-size="9.8" font-weight="bold" fill="#111" textLength="79.5" lengthAdjust="spacingAndGlyphs"><tspan font-style="italic">R</tspan> = 25 g/min (No.9)</text>
<text class="b" x="179.0" y="346.2" font-size="9.8" font-weight="bold" fill="#111" textLength="79.0" lengthAdjust="spacingAndGlyphs"><tspan font-style="italic">R</tspan> = 13 g/min (No.8)</text>
<text class="b" x="179.0" y="381.7" font-size="9.8" font-weight="bold" fill="#111" textLength="79.8" lengthAdjust="spacingAndGlyphs"><tspan font-style="italic">R</tspan> = 6 g/min (No.10)</text>
</g>
</svg>
</body></html>
